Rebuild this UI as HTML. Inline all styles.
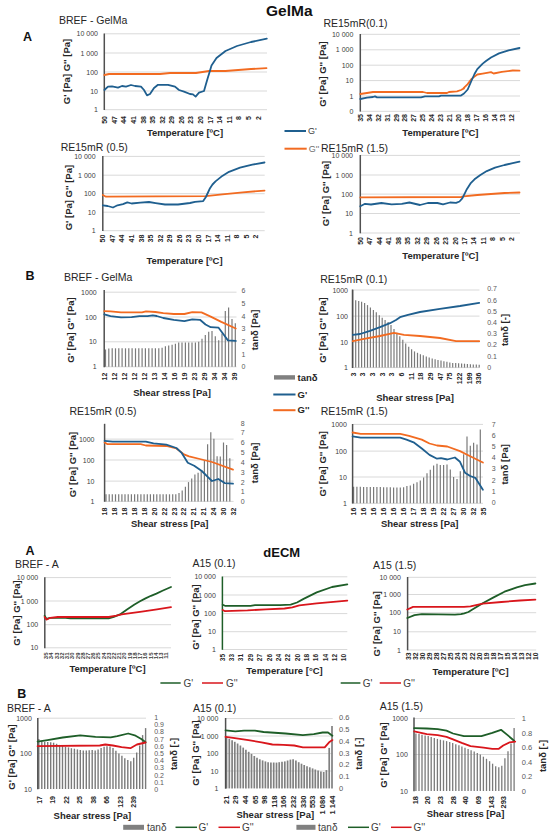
<!DOCTYPE html><html><head><meta charset="utf-8"><style>html,body{margin:0;padding:0;background:#fff;width:550px;height:837px;overflow:hidden}svg{display:block}text{font-family:"Liberation Sans",sans-serif}</style></head><body>
<svg width="550" height="837" viewBox="0 0 550 837">
<rect width="550" height="837" fill="#fff"/>
<text x="266.0" y="16.4" font-size="15.5" font-weight="bold" text-anchor="start" fill="#111">GelMa</text>
<text x="23.0" y="41.0" font-size="12.5" font-weight="bold" text-anchor="start" fill="#111">A</text>
<text x="59.0" y="24.4" font-size="10.5" text-anchor="start" fill="#262626">BREF - GelMa</text>
<line x1="104.3" y1="33.8" x2="267.0" y2="33.8" stroke="#d9d9d9" stroke-width="1"/>
<line x1="104.3" y1="53.0" x2="267.0" y2="53.0" stroke="#d9d9d9" stroke-width="1"/>
<line x1="104.3" y1="72.0" x2="267.0" y2="72.0" stroke="#d9d9d9" stroke-width="1"/>
<line x1="104.3" y1="91.0" x2="267.0" y2="91.0" stroke="#d9d9d9" stroke-width="1"/>
<line x1="104.3" y1="109.7" x2="267.0" y2="109.7" stroke="#d9d9d9" stroke-width="1"/>
<text x="98.0" y="36.3" font-size="7" text-anchor="end" fill="#404040">10 000</text>
<text x="98.0" y="55.5" font-size="7" text-anchor="end" fill="#404040">1 000</text>
<text x="98.0" y="74.5" font-size="7" text-anchor="end" fill="#404040">100</text>
<text x="98.0" y="93.5" font-size="7" text-anchor="end" fill="#404040">10</text>
<text x="98.0" y="112.2" font-size="7" text-anchor="end" fill="#404040">1</text>
<text transform="translate(70.2,71.5) rotate(-90)" font-size="9.5" font-weight="bold" text-anchor="middle" fill="#262626">G'  [Pa] G'' [Pa]</text>
<line x1="104.3" y1="33.5" x2="104.3" y2="110.0" stroke="#505050" stroke-width="1.5"/>
<text transform="translate(107.1,116.0) rotate(-90)" font-size="7" font-weight="bold" text-anchor="end" fill="#262626">50</text>
<text transform="translate(116.7,116.0) rotate(-90)" font-size="7" font-weight="bold" text-anchor="end" fill="#262626">47</text>
<text transform="translate(126.3,116.0) rotate(-90)" font-size="7" font-weight="bold" text-anchor="end" fill="#262626">44</text>
<text transform="translate(135.9,116.0) rotate(-90)" font-size="7" font-weight="bold" text-anchor="end" fill="#262626">41</text>
<text transform="translate(145.5,116.0) rotate(-90)" font-size="7" font-weight="bold" text-anchor="end" fill="#262626">38</text>
<text transform="translate(155.1,116.0) rotate(-90)" font-size="7" font-weight="bold" text-anchor="end" fill="#262626">35</text>
<text transform="translate(164.6,116.0) rotate(-90)" font-size="7" font-weight="bold" text-anchor="end" fill="#262626">32</text>
<text transform="translate(174.2,116.0) rotate(-90)" font-size="7" font-weight="bold" text-anchor="end" fill="#262626">29</text>
<text transform="translate(183.8,116.0) rotate(-90)" font-size="7" font-weight="bold" text-anchor="end" fill="#262626">26</text>
<text transform="translate(193.4,116.0) rotate(-90)" font-size="7" font-weight="bold" text-anchor="end" fill="#262626">23</text>
<text transform="translate(203.0,116.0) rotate(-90)" font-size="7" font-weight="bold" text-anchor="end" fill="#262626">20</text>
<text transform="translate(212.6,116.0) rotate(-90)" font-size="7" font-weight="bold" text-anchor="end" fill="#262626">17</text>
<text transform="translate(222.2,116.0) rotate(-90)" font-size="7" font-weight="bold" text-anchor="end" fill="#262626">14</text>
<text transform="translate(231.8,116.0) rotate(-90)" font-size="7" font-weight="bold" text-anchor="end" fill="#262626">11</text>
<text transform="translate(241.3,116.0) rotate(-90)" font-size="7" font-weight="bold" text-anchor="end" fill="#262626">8</text>
<text transform="translate(250.9,116.0) rotate(-90)" font-size="7" font-weight="bold" text-anchor="end" fill="#262626">5</text>
<text transform="translate(260.5,116.0) rotate(-90)" font-size="7" font-weight="bold" text-anchor="end" fill="#262626">2</text>
<text x="185.0" y="136.0" font-size="9.5" font-weight="bold" text-anchor="middle" fill="#262626">Temperature [ºC]</text>
<polyline points="104.4,75.0 109.0,74.0 160.0,74.0 170.0,73.0 196.0,73.0 209.0,71.0 225.5,71.0 251.0,69.0 266.5,68.2" fill="none" stroke="#f26b21" stroke-width="1.8" stroke-linejoin="round" stroke-linecap="round"/>
<polyline points="104.4,90.0 108.0,86.6 112.0,86.4 118.0,87.6 122.0,86.0 126.0,86.6 131.0,85.0 135.0,86.0 141.0,86.6 144.0,90.0 147.0,95.4 150.0,94.0 154.0,88.0 158.0,84.8 168.0,84.8 175.0,86.6 179.0,90.0 184.0,91.6 190.0,94.0 193.0,94.4 195.6,96.6 199.0,92.6 204.0,91.0 206.0,84.0 207.6,78.4 209.6,72.0 211.5,65.6 216.5,58.0 225.5,51.0 237.0,46.0 251.0,42.0 266.8,38.7" fill="none" stroke="#1f5f8f" stroke-width="1.8" stroke-linejoin="round" stroke-linecap="round"/>
<line x1="284.5" y1="131.0" x2="306.0" y2="131.0" stroke="#1f5f8f" stroke-width="2"/>
<text x="308.0" y="134.3" font-size="9" text-anchor="start" fill="#404040">G'</text>
<line x1="284.5" y1="148.7" x2="306.7" y2="148.7" stroke="#f26b21" stroke-width="2"/>
<text x="308.7" y="152.0" font-size="9" text-anchor="start" fill="#707070">G''</text>
<text x="323.4" y="26.8" font-size="10.5" text-anchor="start" fill="#262626">RE15mR(0.1)</text>
<line x1="360.3" y1="34.3" x2="520.0" y2="34.3" stroke="#d9d9d9" stroke-width="1"/>
<line x1="360.3" y1="49.8" x2="520.0" y2="49.8" stroke="#d9d9d9" stroke-width="1"/>
<line x1="360.3" y1="65.2" x2="520.0" y2="65.2" stroke="#d9d9d9" stroke-width="1"/>
<line x1="360.3" y1="80.6" x2="520.0" y2="80.6" stroke="#d9d9d9" stroke-width="1"/>
<line x1="360.3" y1="96.0" x2="520.0" y2="96.0" stroke="#d9d9d9" stroke-width="1"/>
<line x1="360.3" y1="111.3" x2="520.0" y2="111.3" stroke="#d9d9d9" stroke-width="1"/>
<text x="353.4" y="36.8" font-size="7" text-anchor="end" fill="#404040">10 000</text>
<text x="353.4" y="52.3" font-size="7" text-anchor="end" fill="#404040">1 000</text>
<text x="353.4" y="67.7" font-size="7" text-anchor="end" fill="#404040">100</text>
<text x="353.4" y="83.1" font-size="7" text-anchor="end" fill="#404040">10</text>
<text x="353.4" y="98.5" font-size="7" text-anchor="end" fill="#404040">1</text>
<text x="353.4" y="113.8" font-size="7" text-anchor="end" fill="#404040">0</text>
<text transform="translate(325.8,74.0) rotate(-90)" font-size="9.5" font-weight="bold" text-anchor="middle" fill="#262626">G'  [Pa] G'' [Pa]</text>
<line x1="360.3" y1="34.0" x2="360.3" y2="111.6" stroke="#505050" stroke-width="1.5"/>
<text transform="translate(362.8,114.0) rotate(-90)" font-size="7" font-weight="bold" text-anchor="end" fill="#262626">35</text>
<text transform="translate(371.7,114.0) rotate(-90)" font-size="7" font-weight="bold" text-anchor="end" fill="#262626">34</text>
<text transform="translate(380.6,114.0) rotate(-90)" font-size="7" font-weight="bold" text-anchor="end" fill="#262626">32</text>
<text transform="translate(389.6,114.0) rotate(-90)" font-size="7" font-weight="bold" text-anchor="end" fill="#262626">31</text>
<text transform="translate(398.5,114.0) rotate(-90)" font-size="7" font-weight="bold" text-anchor="end" fill="#262626">29</text>
<text transform="translate(407.4,114.0) rotate(-90)" font-size="7" font-weight="bold" text-anchor="end" fill="#262626">28</text>
<text transform="translate(416.3,114.0) rotate(-90)" font-size="7" font-weight="bold" text-anchor="end" fill="#262626">27</text>
<text transform="translate(425.2,114.0) rotate(-90)" font-size="7" font-weight="bold" text-anchor="end" fill="#262626">25</text>
<text transform="translate(434.1,114.0) rotate(-90)" font-size="7" font-weight="bold" text-anchor="end" fill="#262626">24</text>
<text transform="translate(443.0,114.0) rotate(-90)" font-size="7" font-weight="bold" text-anchor="end" fill="#262626">23</text>
<text transform="translate(451.9,114.0) rotate(-90)" font-size="7" font-weight="bold" text-anchor="end" fill="#262626">21</text>
<text transform="translate(460.8,114.0) rotate(-90)" font-size="7" font-weight="bold" text-anchor="end" fill="#262626">20</text>
<text transform="translate(469.8,114.0) rotate(-90)" font-size="7" font-weight="bold" text-anchor="end" fill="#262626">18</text>
<text transform="translate(478.7,114.0) rotate(-90)" font-size="7" font-weight="bold" text-anchor="end" fill="#262626">17</text>
<text transform="translate(487.6,114.0) rotate(-90)" font-size="7" font-weight="bold" text-anchor="end" fill="#262626">16</text>
<text transform="translate(496.5,114.0) rotate(-90)" font-size="7" font-weight="bold" text-anchor="end" fill="#262626">14</text>
<text transform="translate(505.4,114.0) rotate(-90)" font-size="7" font-weight="bold" text-anchor="end" fill="#262626">13</text>
<text transform="translate(514.3,114.0) rotate(-90)" font-size="7" font-weight="bold" text-anchor="end" fill="#262626">12</text>
<text x="440.4" y="136.0" font-size="9.5" font-weight="bold" text-anchor="middle" fill="#262626">Temperature [ºC]</text>
<polyline points="360.3,94.0 367.0,93.0 373.0,92.0 423.0,92.0 427.0,93.0 447.0,93.0 449.0,92.0 457.0,91.4 461.0,90.0 464.0,88.4 463.6,88.2 467.7,84.1 471.8,78.6 477.3,74.5 482.7,73.6 491.0,72.1 493.6,73.5 501.8,71.8 512.7,70.5 519.5,70.7" fill="none" stroke="#f26b21" stroke-width="1.8" stroke-linejoin="round" stroke-linecap="round"/>
<polyline points="360.3,99.0 367.0,97.6 373.0,97.0 375.0,96.4 377.0,97.4 421.0,97.4 425.0,96.4 439.0,96.4 441.0,95.6 461.0,95.6 464.0,93.5 467.7,89.5 471.8,80.0 474.5,74.0 477.3,69.1 482.7,63.6 486.0,61.0 491.0,57.5 499.0,53.4 508.6,50.3 519.5,48.0" fill="none" stroke="#1f5f8f" stroke-width="1.8" stroke-linejoin="round" stroke-linecap="round"/>
<text x="60.7" y="150.7" font-size="10.5" text-anchor="start" fill="#262626">RE15mR (0.5)</text>
<line x1="102.8" y1="156.4" x2="264.7" y2="156.4" stroke="#d9d9d9" stroke-width="1"/>
<line x1="102.8" y1="175.2" x2="264.7" y2="175.2" stroke="#d9d9d9" stroke-width="1"/>
<line x1="102.8" y1="193.7" x2="264.7" y2="193.7" stroke="#d9d9d9" stroke-width="1"/>
<line x1="102.8" y1="212.2" x2="264.7" y2="212.2" stroke="#d9d9d9" stroke-width="1"/>
<line x1="102.8" y1="230.7" x2="264.7" y2="230.7" stroke="#d9d9d9" stroke-width="1"/>
<text x="95.6" y="158.9" font-size="7" text-anchor="end" fill="#404040">10 000</text>
<text x="95.6" y="177.7" font-size="7" text-anchor="end" fill="#404040">1 000</text>
<text x="95.6" y="196.2" font-size="7" text-anchor="end" fill="#404040">100</text>
<text x="95.6" y="214.7" font-size="7" text-anchor="end" fill="#404040">10</text>
<text x="95.6" y="233.2" font-size="7" text-anchor="end" fill="#404040">1</text>
<text transform="translate(71.9,197.6) rotate(-90)" font-size="9.5" font-weight="bold" text-anchor="middle" fill="#262626">G'  [Pa]  G'' [Pa]</text>
<line x1="102.8" y1="156.0" x2="102.8" y2="231.0" stroke="#505050" stroke-width="1.5"/>
<text transform="translate(105.3,234.7) rotate(-90)" font-size="7" font-weight="bold" text-anchor="end" fill="#262626">50</text>
<text transform="translate(114.9,234.7) rotate(-90)" font-size="7" font-weight="bold" text-anchor="end" fill="#262626">47</text>
<text transform="translate(124.4,234.7) rotate(-90)" font-size="7" font-weight="bold" text-anchor="end" fill="#262626">44</text>
<text transform="translate(134.0,234.7) rotate(-90)" font-size="7" font-weight="bold" text-anchor="end" fill="#262626">41</text>
<text transform="translate(143.6,234.7) rotate(-90)" font-size="7" font-weight="bold" text-anchor="end" fill="#262626">38</text>
<text transform="translate(153.1,234.7) rotate(-90)" font-size="7" font-weight="bold" text-anchor="end" fill="#262626">35</text>
<text transform="translate(162.7,234.7) rotate(-90)" font-size="7" font-weight="bold" text-anchor="end" fill="#262626">32</text>
<text transform="translate(172.3,234.7) rotate(-90)" font-size="7" font-weight="bold" text-anchor="end" fill="#262626">29</text>
<text transform="translate(181.8,234.7) rotate(-90)" font-size="7" font-weight="bold" text-anchor="end" fill="#262626">26</text>
<text transform="translate(191.4,234.7) rotate(-90)" font-size="7" font-weight="bold" text-anchor="end" fill="#262626">23</text>
<text transform="translate(200.9,234.7) rotate(-90)" font-size="7" font-weight="bold" text-anchor="end" fill="#262626">20</text>
<text transform="translate(210.5,234.7) rotate(-90)" font-size="7" font-weight="bold" text-anchor="end" fill="#262626">17</text>
<text transform="translate(220.1,234.7) rotate(-90)" font-size="7" font-weight="bold" text-anchor="end" fill="#262626">14</text>
<text transform="translate(229.6,234.7) rotate(-90)" font-size="7" font-weight="bold" text-anchor="end" fill="#262626">11</text>
<text transform="translate(239.2,234.7) rotate(-90)" font-size="7" font-weight="bold" text-anchor="end" fill="#262626">8</text>
<text transform="translate(248.8,234.7) rotate(-90)" font-size="7" font-weight="bold" text-anchor="end" fill="#262626">5</text>
<text transform="translate(258.3,234.7) rotate(-90)" font-size="7" font-weight="bold" text-anchor="end" fill="#262626">2</text>
<text x="184.5" y="263.5" font-size="9.5" font-weight="bold" text-anchor="middle" fill="#262626">Temperature [ºC]</text>
<polyline points="102.8,195.0 106.0,196.7 205.9,196.1 222.3,194.3 242.7,192.3 264.5,190.6" fill="none" stroke="#f26b21" stroke-width="1.8" stroke-linejoin="round" stroke-linecap="round"/>
<polyline points="102.8,205.3 107.6,206.0 113.0,207.5 117.5,205.3 123.0,204.2 127.3,202.4 131.6,203.5 140.4,202.7 149.0,202.0 155.6,203.1 165.0,204.5 178.0,204.5 190.0,203.0 195.0,201.8 203.2,201.1 205.9,197.0 208.0,192.5 210.0,188.2 212.5,184.5 215.5,181.4 222.3,175.9 229.0,171.8 240.0,167.7 252.3,164.6 264.5,162.5" fill="none" stroke="#1f5f8f" stroke-width="1.8" stroke-linejoin="round" stroke-linecap="round"/>
<text x="321.0" y="151.5" font-size="10.5" text-anchor="start" fill="#262626">RE15mR (1.5)</text>
<line x1="360.3" y1="155.4" x2="520.0" y2="155.4" stroke="#d9d9d9" stroke-width="1"/>
<line x1="360.3" y1="175.0" x2="520.0" y2="175.0" stroke="#d9d9d9" stroke-width="1"/>
<line x1="360.3" y1="194.1" x2="520.0" y2="194.1" stroke="#d9d9d9" stroke-width="1"/>
<line x1="360.3" y1="213.5" x2="520.0" y2="213.5" stroke="#d9d9d9" stroke-width="1"/>
<line x1="360.3" y1="233.0" x2="520.0" y2="233.0" stroke="#d9d9d9" stroke-width="1"/>
<text x="353.0" y="157.9" font-size="7" text-anchor="end" fill="#404040">10 000</text>
<text x="353.0" y="177.5" font-size="7" text-anchor="end" fill="#404040">1 000</text>
<text x="353.0" y="196.6" font-size="7" text-anchor="end" fill="#404040">100</text>
<text x="353.0" y="216.0" font-size="7" text-anchor="end" fill="#404040">10</text>
<text x="353.0" y="235.5" font-size="7" text-anchor="end" fill="#404040">1</text>
<text transform="translate(329.1,193.5) rotate(-90)" font-size="9.5" font-weight="bold" text-anchor="middle" fill="#262626">G'  [Pa]  G'' [Pa]</text>
<line x1="360.3" y1="155.0" x2="360.3" y2="233.3" stroke="#505050" stroke-width="1.5"/>
<text transform="translate(362.8,237.0) rotate(-90)" font-size="7" font-weight="bold" text-anchor="end" fill="#262626">50</text>
<text transform="translate(372.3,237.0) rotate(-90)" font-size="7" font-weight="bold" text-anchor="end" fill="#262626">47</text>
<text transform="translate(381.8,237.0) rotate(-90)" font-size="7" font-weight="bold" text-anchor="end" fill="#262626">44</text>
<text transform="translate(391.2,237.0) rotate(-90)" font-size="7" font-weight="bold" text-anchor="end" fill="#262626">41</text>
<text transform="translate(400.7,237.0) rotate(-90)" font-size="7" font-weight="bold" text-anchor="end" fill="#262626">38</text>
<text transform="translate(410.2,237.0) rotate(-90)" font-size="7" font-weight="bold" text-anchor="end" fill="#262626">35</text>
<text transform="translate(419.6,237.0) rotate(-90)" font-size="7" font-weight="bold" text-anchor="end" fill="#262626">32</text>
<text transform="translate(429.1,237.0) rotate(-90)" font-size="7" font-weight="bold" text-anchor="end" fill="#262626">29</text>
<text transform="translate(438.6,237.0) rotate(-90)" font-size="7" font-weight="bold" text-anchor="end" fill="#262626">26</text>
<text transform="translate(448.0,237.0) rotate(-90)" font-size="7" font-weight="bold" text-anchor="end" fill="#262626">23</text>
<text transform="translate(457.5,237.0) rotate(-90)" font-size="7" font-weight="bold" text-anchor="end" fill="#262626">20</text>
<text transform="translate(467.0,237.0) rotate(-90)" font-size="7" font-weight="bold" text-anchor="end" fill="#262626">17</text>
<text transform="translate(476.4,237.0) rotate(-90)" font-size="7" font-weight="bold" text-anchor="end" fill="#262626">14</text>
<text transform="translate(485.9,237.0) rotate(-90)" font-size="7" font-weight="bold" text-anchor="end" fill="#262626">11</text>
<text transform="translate(495.4,237.0) rotate(-90)" font-size="7" font-weight="bold" text-anchor="end" fill="#262626">8</text>
<text transform="translate(504.9,237.0) rotate(-90)" font-size="7" font-weight="bold" text-anchor="end" fill="#262626">5</text>
<text transform="translate(514.3,237.0) rotate(-90)" font-size="7" font-weight="bold" text-anchor="end" fill="#262626">2</text>
<text x="440.4" y="258.5" font-size="9.5" font-weight="bold" text-anchor="middle" fill="#262626">Temperature [ºC]</text>
<polyline points="360.3,197.4 461.0,197.0 463.6,196.4 477.3,195.0 491.0,194.0 504.5,193.0 519.5,192.5" fill="none" stroke="#f26b21" stroke-width="1.8" stroke-linejoin="round" stroke-linecap="round"/>
<polyline points="360.3,206.3 365.0,203.8 371.0,204.5 381.4,203.0 391.6,204.3 401.8,203.8 409.4,202.5 420.0,205.0 427.8,203.0 437.4,203.0 443.0,204.3 450.0,202.5 456.1,202.9 459.5,201.5 462.3,198.4 464.3,194.3 467.0,188.9 470.5,183.4 474.5,179.3 480.0,175.2 486.8,171.1 495.0,167.7 504.5,165.0 512.7,163.2 519.5,161.6" fill="none" stroke="#1f5f8f" stroke-width="1.8" stroke-linejoin="round" stroke-linecap="round"/>
<text x="25.4" y="280.4" font-size="12.5" font-weight="bold" text-anchor="start" fill="#111">B</text>
<text x="64.0" y="280.9" font-size="10.5" text-anchor="start" fill="#262626">BREF - GelMa</text>
<line x1="104.3" y1="292.2" x2="236.5" y2="292.2" stroke="#d9d9d9" stroke-width="1"/>
<line x1="104.3" y1="317.0" x2="236.5" y2="317.0" stroke="#d9d9d9" stroke-width="1"/>
<line x1="104.3" y1="341.8" x2="236.5" y2="341.8" stroke="#d9d9d9" stroke-width="1"/>
<line x1="104.3" y1="366.8" x2="236.5" y2="366.8" stroke="#d9d9d9" stroke-width="1"/>
<text x="96.7" y="294.7" font-size="7" text-anchor="end" fill="#404040">1000</text>
<text x="96.7" y="319.5" font-size="7" text-anchor="end" fill="#404040">100</text>
<text x="96.7" y="344.3" font-size="7" text-anchor="end" fill="#404040">10</text>
<text x="96.7" y="369.3" font-size="7" text-anchor="end" fill="#404040">1</text>
<text transform="translate(74.4,330.0) rotate(-90)" font-size="9.5" font-weight="bold" text-anchor="middle" fill="#262626">G'  [Pa]  G'' [Pa]</text>
<text x="243.5" y="293.4" font-size="7" text-anchor="middle" fill="#595959">6</text>
<text x="243.5" y="306.0" font-size="7" text-anchor="middle" fill="#595959">5</text>
<text x="243.5" y="318.6" font-size="7" text-anchor="middle" fill="#595959">4</text>
<text x="243.5" y="331.3" font-size="7" text-anchor="middle" fill="#595959">3</text>
<text x="243.5" y="343.9" font-size="7" text-anchor="middle" fill="#595959">2</text>
<text x="243.5" y="356.5" font-size="7" text-anchor="middle" fill="#595959">1</text>
<text x="243.5" y="369.1" font-size="7" text-anchor="middle" fill="#595959">0</text>
<text transform="translate(258.0,330.0) rotate(-90)" font-size="9.5" font-weight="bold" text-anchor="middle" fill="#262626">tanδ [Pa]</text>
<line x1="105.5" y1="349.5" x2="105.5" y2="366.8" stroke="#7a7a7a" stroke-width="1.2"/>
<line x1="108.8" y1="348.6" x2="108.8" y2="366.8" stroke="#7a7a7a" stroke-width="1.2"/>
<line x1="112.2" y1="348.3" x2="112.2" y2="366.8" stroke="#7a7a7a" stroke-width="1.2"/>
<line x1="115.5" y1="348.3" x2="115.5" y2="366.8" stroke="#7a7a7a" stroke-width="1.2"/>
<line x1="118.8" y1="348.3" x2="118.8" y2="366.8" stroke="#7a7a7a" stroke-width="1.2"/>
<line x1="122.1" y1="348.3" x2="122.1" y2="366.8" stroke="#7a7a7a" stroke-width="1.2"/>
<line x1="125.5" y1="348.3" x2="125.5" y2="366.8" stroke="#7a7a7a" stroke-width="1.2"/>
<line x1="128.8" y1="348.3" x2="128.8" y2="366.8" stroke="#7a7a7a" stroke-width="1.2"/>
<line x1="132.1" y1="348.3" x2="132.1" y2="366.8" stroke="#7a7a7a" stroke-width="1.2"/>
<line x1="135.5" y1="348.3" x2="135.5" y2="366.8" stroke="#7a7a7a" stroke-width="1.2"/>
<line x1="138.8" y1="348.3" x2="138.8" y2="366.8" stroke="#7a7a7a" stroke-width="1.2"/>
<line x1="142.1" y1="348.3" x2="142.1" y2="366.8" stroke="#7a7a7a" stroke-width="1.2"/>
<line x1="145.4" y1="348.3" x2="145.4" y2="366.8" stroke="#7a7a7a" stroke-width="1.2"/>
<line x1="148.8" y1="348.3" x2="148.8" y2="366.8" stroke="#7a7a7a" stroke-width="1.2"/>
<line x1="152.1" y1="348.3" x2="152.1" y2="366.8" stroke="#7a7a7a" stroke-width="1.2"/>
<line x1="155.4" y1="348.3" x2="155.4" y2="366.8" stroke="#7a7a7a" stroke-width="1.2"/>
<line x1="158.8" y1="348.3" x2="158.8" y2="366.8" stroke="#7a7a7a" stroke-width="1.2"/>
<line x1="162.1" y1="347.7" x2="162.1" y2="366.8" stroke="#7a7a7a" stroke-width="1.2"/>
<line x1="165.4" y1="346.3" x2="165.4" y2="366.8" stroke="#7a7a7a" stroke-width="1.2"/>
<line x1="168.7" y1="345.5" x2="168.7" y2="366.8" stroke="#7a7a7a" stroke-width="1.2"/>
<line x1="172.1" y1="344.7" x2="172.1" y2="366.8" stroke="#7a7a7a" stroke-width="1.2"/>
<line x1="175.4" y1="343.8" x2="175.4" y2="366.8" stroke="#7a7a7a" stroke-width="1.2"/>
<line x1="178.7" y1="342.6" x2="178.7" y2="366.8" stroke="#7a7a7a" stroke-width="1.2"/>
<line x1="182.0" y1="342.5" x2="182.0" y2="366.8" stroke="#7a7a7a" stroke-width="1.2"/>
<line x1="185.4" y1="342.5" x2="185.4" y2="366.8" stroke="#7a7a7a" stroke-width="1.2"/>
<line x1="188.7" y1="342.5" x2="188.7" y2="366.8" stroke="#7a7a7a" stroke-width="1.2"/>
<line x1="192.0" y1="342.5" x2="192.0" y2="366.8" stroke="#7a7a7a" stroke-width="1.2"/>
<line x1="195.4" y1="342.5" x2="195.4" y2="366.8" stroke="#7a7a7a" stroke-width="1.2"/>
<line x1="198.7" y1="341.8" x2="198.7" y2="366.8" stroke="#7a7a7a" stroke-width="1.2"/>
<line x1="202.0" y1="338.7" x2="202.0" y2="366.8" stroke="#7a7a7a" stroke-width="1.2"/>
<line x1="205.3" y1="334.9" x2="205.3" y2="366.8" stroke="#7a7a7a" stroke-width="1.2"/>
<line x1="208.7" y1="331.8" x2="208.7" y2="366.8" stroke="#7a7a7a" stroke-width="1.2"/>
<line x1="212.0" y1="331.0" x2="212.0" y2="366.8" stroke="#7a7a7a" stroke-width="1.2"/>
<line x1="215.3" y1="336.2" x2="215.3" y2="366.8" stroke="#7a7a7a" stroke-width="1.2"/>
<line x1="218.7" y1="340.3" x2="218.7" y2="366.8" stroke="#7a7a7a" stroke-width="1.2"/>
<line x1="222.0" y1="333.6" x2="222.0" y2="366.8" stroke="#7a7a7a" stroke-width="1.2"/>
<line x1="225.3" y1="311.1" x2="225.3" y2="366.8" stroke="#7a7a7a" stroke-width="1.2"/>
<line x1="228.6" y1="307.5" x2="228.6" y2="366.8" stroke="#7a7a7a" stroke-width="1.2"/>
<line x1="232.0" y1="318.9" x2="232.0" y2="366.8" stroke="#7a7a7a" stroke-width="1.2"/>
<line x1="235.3" y1="323.2" x2="235.3" y2="366.8" stroke="#7a7a7a" stroke-width="1.2"/>
<line x1="104.2" y1="290.0" x2="104.2" y2="367.2" stroke="#505050" stroke-width="1.5"/>
<text transform="translate(107.4,372.7) rotate(-90)" font-size="7" font-weight="bold" text-anchor="end" fill="#262626">12</text>
<text transform="translate(117.4,372.7) rotate(-90)" font-size="7" font-weight="bold" text-anchor="end" fill="#262626">12</text>
<text transform="translate(127.4,372.7) rotate(-90)" font-size="7" font-weight="bold" text-anchor="end" fill="#262626">12</text>
<text transform="translate(137.3,372.7) rotate(-90)" font-size="7" font-weight="bold" text-anchor="end" fill="#262626">12</text>
<text transform="translate(147.3,372.7) rotate(-90)" font-size="7" font-weight="bold" text-anchor="end" fill="#262626">12</text>
<text transform="translate(157.3,372.7) rotate(-90)" font-size="7" font-weight="bold" text-anchor="end" fill="#262626">13</text>
<text transform="translate(167.2,372.7) rotate(-90)" font-size="7" font-weight="bold" text-anchor="end" fill="#262626">14</text>
<text transform="translate(177.2,372.7) rotate(-90)" font-size="7" font-weight="bold" text-anchor="end" fill="#262626">16</text>
<text transform="translate(187.2,372.7) rotate(-90)" font-size="7" font-weight="bold" text-anchor="end" fill="#262626">19</text>
<text transform="translate(197.1,372.7) rotate(-90)" font-size="7" font-weight="bold" text-anchor="end" fill="#262626">23</text>
<text transform="translate(207.1,372.7) rotate(-90)" font-size="7" font-weight="bold" text-anchor="end" fill="#262626">29</text>
<text transform="translate(217.1,372.7) rotate(-90)" font-size="7" font-weight="bold" text-anchor="end" fill="#262626">34</text>
<text transform="translate(227.1,372.7) rotate(-90)" font-size="7" font-weight="bold" text-anchor="end" fill="#262626">34</text>
<text transform="translate(237.0,372.7) rotate(-90)" font-size="7" font-weight="bold" text-anchor="end" fill="#262626">39</text>
<text x="172.0" y="395.5" font-size="9.5" font-weight="bold" text-anchor="middle" fill="#262626">Shear stress [Pa]</text>
<polyline points="104.3,311.1 110.5,311.4 121.0,312.4 142.0,312.4 146.0,311.4 155.4,312.0 163.3,313.2 173.8,314.0 184.4,314.0 192.3,312.2 201.5,312.4 210.7,316.6 221.3,321.9 235.8,328.5" fill="none" stroke="#f26b21" stroke-width="1.8" stroke-linejoin="round" stroke-linecap="round"/>
<polyline points="104.3,314.3 110.5,316.1 121.0,317.4 131.6,317.2 139.5,316.1 147.5,316.1 152.7,315.3 156.7,316.0 163.3,318.0 173.8,319.8 184.4,321.1 192.3,319.3 200.0,319.8 205.5,324.5 210.7,327.2 218.6,327.7 224.0,335.0 227.9,340.4 235.8,340.9" fill="none" stroke="#1f5f8f" stroke-width="1.8" stroke-linejoin="round" stroke-linecap="round"/>
<line x1="274.0" y1="377.4" x2="295.0" y2="377.4" stroke="#808080" stroke-width="4.4"/>
<text x="297.5" y="381.0" font-size="9.5" font-weight="bold" text-anchor="start" fill="#262626">tanδ</text>
<line x1="273.3" y1="394.5" x2="295.5" y2="394.5" stroke="#1f5f8f" stroke-width="2"/>
<text x="297.5" y="397.5" font-size="9.5" font-weight="bold" text-anchor="start" fill="#262626">G'</text>
<line x1="273.3" y1="410.2" x2="295.5" y2="410.2" stroke="#f26b21" stroke-width="2"/>
<text x="297.5" y="413.4" font-size="9.5" font-weight="bold" text-anchor="start" fill="#262626">G''</text>
<text x="320.2" y="283.3" font-size="10.5" text-anchor="start" fill="#262626">RE15mR (0.1)</text>
<line x1="352.5" y1="290.0" x2="479.5" y2="290.0" stroke="#d9d9d9" stroke-width="1"/>
<line x1="352.5" y1="316.1" x2="479.5" y2="316.1" stroke="#d9d9d9" stroke-width="1"/>
<line x1="352.5" y1="342.3" x2="479.5" y2="342.3" stroke="#d9d9d9" stroke-width="1"/>
<line x1="352.5" y1="367.6" x2="479.5" y2="367.6" stroke="#d9d9d9" stroke-width="1"/>
<text x="348.0" y="292.5" font-size="7" text-anchor="end" fill="#404040">1000</text>
<text x="348.0" y="318.6" font-size="7" text-anchor="end" fill="#404040">100</text>
<text x="348.0" y="344.8" font-size="7" text-anchor="end" fill="#404040">10</text>
<text x="348.0" y="369.9" font-size="7" text-anchor="end" fill="#404040">1</text>
<text transform="translate(326.4,330.0) rotate(-90)" font-size="9.5" font-weight="bold" text-anchor="middle" fill="#262626">G'  [Pa] G'' [Pa]</text>
<text x="487.2" y="291.3" font-size="7" text-anchor="start" fill="#595959">0.7</text>
<text x="487.2" y="302.5" font-size="7" text-anchor="start" fill="#595959">0.6</text>
<text x="487.2" y="313.7" font-size="7" text-anchor="start" fill="#595959">0.5</text>
<text x="487.2" y="324.9" font-size="7" text-anchor="start" fill="#595959">0.4</text>
<text x="487.2" y="336.1" font-size="7" text-anchor="start" fill="#595959">0.3</text>
<text x="487.2" y="347.3" font-size="7" text-anchor="start" fill="#595959">0.2</text>
<text x="487.2" y="358.5" font-size="7" text-anchor="start" fill="#595959">0.1</text>
<text x="487.2" y="369.7" font-size="7" text-anchor="start" fill="#595959">0</text>
<text transform="translate(508.2,330.0) rotate(-90)" font-size="9.5" font-weight="bold" text-anchor="middle" fill="#262626">tanδ [-]</text>
<line x1="352.8" y1="290.0" x2="352.8" y2="367.6" stroke="#7a7a7a" stroke-width="1.2"/>
<line x1="355.7" y1="300.2" x2="355.7" y2="367.6" stroke="#7a7a7a" stroke-width="1.2"/>
<line x1="358.7" y1="301.0" x2="358.7" y2="367.6" stroke="#7a7a7a" stroke-width="1.2"/>
<line x1="361.6" y1="301.7" x2="361.6" y2="367.6" stroke="#7a7a7a" stroke-width="1.2"/>
<line x1="364.6" y1="303.0" x2="364.6" y2="367.6" stroke="#7a7a7a" stroke-width="1.2"/>
<line x1="367.5" y1="305.1" x2="367.5" y2="367.6" stroke="#7a7a7a" stroke-width="1.2"/>
<line x1="370.4" y1="307.4" x2="370.4" y2="367.6" stroke="#7a7a7a" stroke-width="1.2"/>
<line x1="373.4" y1="309.9" x2="373.4" y2="367.6" stroke="#7a7a7a" stroke-width="1.2"/>
<line x1="376.3" y1="312.3" x2="376.3" y2="367.6" stroke="#7a7a7a" stroke-width="1.2"/>
<line x1="379.3" y1="315.3" x2="379.3" y2="367.6" stroke="#7a7a7a" stroke-width="1.2"/>
<line x1="382.2" y1="317.8" x2="382.2" y2="367.6" stroke="#7a7a7a" stroke-width="1.2"/>
<line x1="385.1" y1="320.0" x2="385.1" y2="367.6" stroke="#7a7a7a" stroke-width="1.2"/>
<line x1="388.1" y1="322.1" x2="388.1" y2="367.6" stroke="#7a7a7a" stroke-width="1.2"/>
<line x1="391.0" y1="325.0" x2="391.0" y2="367.6" stroke="#7a7a7a" stroke-width="1.2"/>
<line x1="394.0" y1="329.1" x2="394.0" y2="367.6" stroke="#7a7a7a" stroke-width="1.2"/>
<line x1="396.9" y1="332.7" x2="396.9" y2="367.6" stroke="#7a7a7a" stroke-width="1.2"/>
<line x1="399.8" y1="336.2" x2="399.8" y2="367.6" stroke="#7a7a7a" stroke-width="1.2"/>
<line x1="402.8" y1="339.8" x2="402.8" y2="367.6" stroke="#7a7a7a" stroke-width="1.2"/>
<line x1="405.7" y1="343.6" x2="405.7" y2="367.6" stroke="#7a7a7a" stroke-width="1.2"/>
<line x1="408.7" y1="346.7" x2="408.7" y2="367.6" stroke="#7a7a7a" stroke-width="1.2"/>
<line x1="411.6" y1="349.3" x2="411.6" y2="367.6" stroke="#7a7a7a" stroke-width="1.2"/>
<line x1="414.5" y1="351.4" x2="414.5" y2="367.6" stroke="#7a7a7a" stroke-width="1.2"/>
<line x1="417.5" y1="352.8" x2="417.5" y2="367.6" stroke="#7a7a7a" stroke-width="1.2"/>
<line x1="420.4" y1="354.2" x2="420.4" y2="367.6" stroke="#7a7a7a" stroke-width="1.2"/>
<line x1="423.3" y1="355.3" x2="423.3" y2="367.6" stroke="#7a7a7a" stroke-width="1.2"/>
<line x1="426.3" y1="356.5" x2="426.3" y2="367.6" stroke="#7a7a7a" stroke-width="1.2"/>
<line x1="429.2" y1="357.5" x2="429.2" y2="367.6" stroke="#7a7a7a" stroke-width="1.2"/>
<line x1="432.2" y1="358.4" x2="432.2" y2="367.6" stroke="#7a7a7a" stroke-width="1.2"/>
<line x1="435.1" y1="359.2" x2="435.1" y2="367.6" stroke="#7a7a7a" stroke-width="1.2"/>
<line x1="438.0" y1="360.0" x2="438.0" y2="367.6" stroke="#7a7a7a" stroke-width="1.2"/>
<line x1="441.0" y1="360.6" x2="441.0" y2="367.6" stroke="#7a7a7a" stroke-width="1.2"/>
<line x1="443.9" y1="361.2" x2="443.9" y2="367.6" stroke="#7a7a7a" stroke-width="1.2"/>
<line x1="446.9" y1="361.8" x2="446.9" y2="367.6" stroke="#7a7a7a" stroke-width="1.2"/>
<line x1="449.8" y1="362.4" x2="449.8" y2="367.6" stroke="#7a7a7a" stroke-width="1.2"/>
<line x1="452.7" y1="362.9" x2="452.7" y2="367.6" stroke="#7a7a7a" stroke-width="1.2"/>
<line x1="455.7" y1="363.1" x2="455.7" y2="367.6" stroke="#7a7a7a" stroke-width="1.2"/>
<line x1="458.6" y1="363.3" x2="458.6" y2="367.6" stroke="#7a7a7a" stroke-width="1.2"/>
<line x1="461.6" y1="363.5" x2="461.6" y2="367.6" stroke="#7a7a7a" stroke-width="1.2"/>
<line x1="464.5" y1="363.7" x2="464.5" y2="367.6" stroke="#7a7a7a" stroke-width="1.2"/>
<line x1="467.4" y1="364.0" x2="467.4" y2="367.6" stroke="#7a7a7a" stroke-width="1.2"/>
<line x1="470.4" y1="364.2" x2="470.4" y2="367.6" stroke="#7a7a7a" stroke-width="1.2"/>
<line x1="473.3" y1="364.4" x2="473.3" y2="367.6" stroke="#7a7a7a" stroke-width="1.2"/>
<line x1="476.3" y1="364.6" x2="476.3" y2="367.6" stroke="#7a7a7a" stroke-width="1.2"/>
<line x1="479.2" y1="364.8" x2="479.2" y2="367.6" stroke="#7a7a7a" stroke-width="1.2"/>
<line x1="352.5" y1="289.5" x2="352.5" y2="368.0" stroke="#505050" stroke-width="1.5"/>
<text transform="translate(355.7,372.5) rotate(-90)" font-size="7" font-weight="bold" text-anchor="end" fill="#262626">3</text>
<text transform="translate(365.4,372.5) rotate(-90)" font-size="7" font-weight="bold" text-anchor="end" fill="#262626">3</text>
<text transform="translate(375.0,372.5) rotate(-90)" font-size="7" font-weight="bold" text-anchor="end" fill="#262626">3</text>
<text transform="translate(384.7,372.5) rotate(-90)" font-size="7" font-weight="bold" text-anchor="end" fill="#262626">3</text>
<text transform="translate(394.3,372.5) rotate(-90)" font-size="7" font-weight="bold" text-anchor="end" fill="#262626">3</text>
<text transform="translate(404.0,372.5) rotate(-90)" font-size="7" font-weight="bold" text-anchor="end" fill="#262626">6</text>
<text transform="translate(413.6,372.5) rotate(-90)" font-size="7" font-weight="bold" text-anchor="end" fill="#262626">11</text>
<text transform="translate(423.2,372.5) rotate(-90)" font-size="7" font-weight="bold" text-anchor="end" fill="#262626">18</text>
<text transform="translate(432.9,372.5) rotate(-90)" font-size="7" font-weight="bold" text-anchor="end" fill="#262626">29</text>
<text transform="translate(442.5,372.5) rotate(-90)" font-size="7" font-weight="bold" text-anchor="end" fill="#262626">47</text>
<text transform="translate(452.2,372.5) rotate(-90)" font-size="7" font-weight="bold" text-anchor="end" fill="#262626">75</text>
<text transform="translate(461.8,372.5) rotate(-90)" font-size="7" font-weight="bold" text-anchor="end" fill="#262626">122</text>
<text transform="translate(471.5,372.5) rotate(-90)" font-size="7" font-weight="bold" text-anchor="end" fill="#262626">199</text>
<text transform="translate(481.1,372.5) rotate(-90)" font-size="7" font-weight="bold" text-anchor="end" fill="#262626">336</text>
<text x="415.0" y="400.5" font-size="9.5" font-weight="bold" text-anchor="middle" fill="#262626">Shear stress [Pa]</text>
<polyline points="352.8,341.2 364.0,338.8 380.0,336.0 394.0,332.8 404.0,334.8 420.0,336.0 440.0,338.0 456.0,341.2 479.2,341.2" fill="none" stroke="#f26b21" stroke-width="1.8" stroke-linejoin="round" stroke-linecap="round"/>
<polyline points="352.8,334.8 360.0,334.0 370.0,330.8 380.0,327.2 390.0,323.2 396.0,320.0 400.0,317.2 408.0,314.8 420.0,312.0 440.0,308.8 460.0,306.0 479.2,302.8" fill="none" stroke="#1f5f8f" stroke-width="1.8" stroke-linejoin="round" stroke-linecap="round"/>
<text x="69.5" y="415.0" font-size="10.5" text-anchor="start" fill="#262626">RE15mR (0.5)</text>
<line x1="104.6" y1="439.1" x2="233.6" y2="439.1" stroke="#d9d9d9" stroke-width="1"/>
<line x1="104.6" y1="460.0" x2="233.6" y2="460.0" stroke="#d9d9d9" stroke-width="1"/>
<line x1="104.6" y1="481.1" x2="233.6" y2="481.1" stroke="#d9d9d9" stroke-width="1"/>
<line x1="104.6" y1="501.4" x2="233.6" y2="501.4" stroke="#d9d9d9" stroke-width="1"/>
<text x="94.5" y="441.6" font-size="7" text-anchor="end" fill="#404040">1000</text>
<text x="94.5" y="462.5" font-size="7" text-anchor="end" fill="#404040">100</text>
<text x="94.5" y="483.6" font-size="7" text-anchor="end" fill="#404040">10</text>
<text x="94.5" y="503.9" font-size="7" text-anchor="end" fill="#404040">1</text>
<text transform="translate(76.2,464.5) rotate(-90)" font-size="9.5" font-weight="bold" text-anchor="middle" fill="#262626">G'  [Pa]  G'' [Pa]</text>
<text x="242.7" y="425.6" font-size="7" text-anchor="middle" fill="#595959">8</text>
<text x="242.7" y="435.4" font-size="7" text-anchor="middle" fill="#595959">7</text>
<text x="242.7" y="445.2" font-size="7" text-anchor="middle" fill="#595959">6</text>
<text x="242.7" y="455.0" font-size="7" text-anchor="middle" fill="#595959">5</text>
<text x="242.7" y="464.8" font-size="7" text-anchor="middle" fill="#595959">4</text>
<text x="242.7" y="474.7" font-size="7" text-anchor="middle" fill="#595959">3</text>
<text x="242.7" y="484.5" font-size="7" text-anchor="middle" fill="#595959">2</text>
<text x="242.7" y="494.3" font-size="7" text-anchor="middle" fill="#595959">1</text>
<text x="242.7" y="504.1" font-size="7" text-anchor="middle" fill="#595959">0</text>
<text transform="translate(258.1,462.9) rotate(-90)" font-size="9.5" font-weight="bold" text-anchor="middle" fill="#262626">tanδ [Pa]</text>
<line x1="106.0" y1="494.3" x2="106.0" y2="501.4" stroke="#7a7a7a" stroke-width="1.2"/>
<line x1="109.2" y1="494.3" x2="109.2" y2="501.4" stroke="#7a7a7a" stroke-width="1.2"/>
<line x1="112.3" y1="494.3" x2="112.3" y2="501.4" stroke="#7a7a7a" stroke-width="1.2"/>
<line x1="115.5" y1="494.3" x2="115.5" y2="501.4" stroke="#7a7a7a" stroke-width="1.2"/>
<line x1="118.7" y1="494.3" x2="118.7" y2="501.4" stroke="#7a7a7a" stroke-width="1.2"/>
<line x1="121.9" y1="494.3" x2="121.9" y2="501.4" stroke="#7a7a7a" stroke-width="1.2"/>
<line x1="125.0" y1="494.3" x2="125.0" y2="501.4" stroke="#7a7a7a" stroke-width="1.2"/>
<line x1="128.2" y1="494.3" x2="128.2" y2="501.4" stroke="#7a7a7a" stroke-width="1.2"/>
<line x1="131.4" y1="494.3" x2="131.4" y2="501.4" stroke="#7a7a7a" stroke-width="1.2"/>
<line x1="134.6" y1="494.3" x2="134.6" y2="501.4" stroke="#7a7a7a" stroke-width="1.2"/>
<line x1="137.7" y1="494.3" x2="137.7" y2="501.4" stroke="#7a7a7a" stroke-width="1.2"/>
<line x1="140.9" y1="494.3" x2="140.9" y2="501.4" stroke="#7a7a7a" stroke-width="1.2"/>
<line x1="144.1" y1="494.3" x2="144.1" y2="501.4" stroke="#7a7a7a" stroke-width="1.2"/>
<line x1="147.3" y1="494.3" x2="147.3" y2="501.4" stroke="#7a7a7a" stroke-width="1.2"/>
<line x1="150.4" y1="494.3" x2="150.4" y2="501.4" stroke="#7a7a7a" stroke-width="1.2"/>
<line x1="153.6" y1="494.3" x2="153.6" y2="501.4" stroke="#7a7a7a" stroke-width="1.2"/>
<line x1="156.8" y1="494.3" x2="156.8" y2="501.4" stroke="#7a7a7a" stroke-width="1.2"/>
<line x1="160.0" y1="494.3" x2="160.0" y2="501.4" stroke="#7a7a7a" stroke-width="1.2"/>
<line x1="163.1" y1="494.3" x2="163.1" y2="501.4" stroke="#7a7a7a" stroke-width="1.2"/>
<line x1="166.3" y1="494.3" x2="166.3" y2="501.4" stroke="#7a7a7a" stroke-width="1.2"/>
<line x1="169.5" y1="494.3" x2="169.5" y2="501.4" stroke="#7a7a7a" stroke-width="1.2"/>
<line x1="172.7" y1="494.3" x2="172.7" y2="501.4" stroke="#7a7a7a" stroke-width="1.2"/>
<line x1="175.8" y1="494.3" x2="175.8" y2="501.4" stroke="#7a7a7a" stroke-width="1.2"/>
<line x1="179.0" y1="492.9" x2="179.0" y2="501.4" stroke="#7a7a7a" stroke-width="1.2"/>
<line x1="182.2" y1="490.6" x2="182.2" y2="501.4" stroke="#7a7a7a" stroke-width="1.2"/>
<line x1="185.4" y1="486.7" x2="185.4" y2="501.4" stroke="#7a7a7a" stroke-width="1.2"/>
<line x1="188.5" y1="482.1" x2="188.5" y2="501.4" stroke="#7a7a7a" stroke-width="1.2"/>
<line x1="191.7" y1="478.6" x2="191.7" y2="501.4" stroke="#7a7a7a" stroke-width="1.2"/>
<line x1="194.9" y1="474.5" x2="194.9" y2="501.4" stroke="#7a7a7a" stroke-width="1.2"/>
<line x1="198.1" y1="472.7" x2="198.1" y2="501.4" stroke="#7a7a7a" stroke-width="1.2"/>
<line x1="201.2" y1="470.1" x2="201.2" y2="501.4" stroke="#7a7a7a" stroke-width="1.2"/>
<line x1="204.4" y1="460.2" x2="204.4" y2="501.4" stroke="#7a7a7a" stroke-width="1.2"/>
<line x1="207.6" y1="444.3" x2="207.6" y2="501.4" stroke="#7a7a7a" stroke-width="1.2"/>
<line x1="210.8" y1="432.3" x2="210.8" y2="501.4" stroke="#7a7a7a" stroke-width="1.2"/>
<line x1="213.9" y1="438.8" x2="213.9" y2="501.4" stroke="#7a7a7a" stroke-width="1.2"/>
<line x1="217.1" y1="456.3" x2="217.1" y2="501.4" stroke="#7a7a7a" stroke-width="1.2"/>
<line x1="220.3" y1="456.5" x2="220.3" y2="501.4" stroke="#7a7a7a" stroke-width="1.2"/>
<line x1="223.5" y1="442.5" x2="223.5" y2="501.4" stroke="#7a7a7a" stroke-width="1.2"/>
<line x1="226.6" y1="445.1" x2="226.6" y2="501.4" stroke="#7a7a7a" stroke-width="1.2"/>
<line x1="229.8" y1="458.2" x2="229.8" y2="501.4" stroke="#7a7a7a" stroke-width="1.2"/>
<line x1="104.6" y1="423.8" x2="104.6" y2="501.8" stroke="#505050" stroke-width="1.5"/>
<text transform="translate(107.4,507.7) rotate(-90)" font-size="7" font-weight="bold" text-anchor="end" fill="#262626">18</text>
<text transform="translate(117.3,507.7) rotate(-90)" font-size="7" font-weight="bold" text-anchor="end" fill="#262626">18</text>
<text transform="translate(127.1,507.7) rotate(-90)" font-size="7" font-weight="bold" text-anchor="end" fill="#262626">18</text>
<text transform="translate(137.0,507.7) rotate(-90)" font-size="7" font-weight="bold" text-anchor="end" fill="#262626">18</text>
<text transform="translate(146.9,507.7) rotate(-90)" font-size="7" font-weight="bold" text-anchor="end" fill="#262626">18</text>
<text transform="translate(156.7,507.7) rotate(-90)" font-size="7" font-weight="bold" text-anchor="end" fill="#262626">20</text>
<text transform="translate(166.6,507.7) rotate(-90)" font-size="7" font-weight="bold" text-anchor="end" fill="#262626">22</text>
<text transform="translate(176.5,507.7) rotate(-90)" font-size="7" font-weight="bold" text-anchor="end" fill="#262626">23</text>
<text transform="translate(186.3,507.7) rotate(-90)" font-size="7" font-weight="bold" text-anchor="end" fill="#262626">22</text>
<text transform="translate(196.2,507.7) rotate(-90)" font-size="7" font-weight="bold" text-anchor="end" fill="#262626">21</text>
<text transform="translate(206.0,507.7) rotate(-90)" font-size="7" font-weight="bold" text-anchor="end" fill="#262626">21</text>
<text transform="translate(215.9,507.7) rotate(-90)" font-size="7" font-weight="bold" text-anchor="end" fill="#262626">24</text>
<text transform="translate(225.8,507.7) rotate(-90)" font-size="7" font-weight="bold" text-anchor="end" fill="#262626">30</text>
<text transform="translate(235.6,507.7) rotate(-90)" font-size="7" font-weight="bold" text-anchor="end" fill="#262626">32</text>
<text x="169.7" y="526.5" font-size="9.5" font-weight="bold" text-anchor="middle" fill="#262626">Shear stress [Pa]</text>
<polyline points="104.6,442.4 107.6,444.2 140.7,444.2 145.8,445.5 166.2,446.0 176.4,448.5 184.0,454.4 189.0,456.4 201.8,459.5 212.0,462.0 233.0,469.6" fill="none" stroke="#f26b21" stroke-width="1.8" stroke-linejoin="round" stroke-linecap="round"/>
<polyline points="104.6,440.9 112.7,441.6 145.8,441.6 153.5,443.4 166.2,444.7 176.4,448.0 181.4,452.6 187.8,462.8 194.2,465.8 201.8,471.0 208.2,477.3 212.0,481.0 218.3,479.0 224.7,483.1 233.0,483.6" fill="none" stroke="#1f5f8f" stroke-width="1.8" stroke-linejoin="round" stroke-linecap="round"/>
<text x="320.7" y="415.0" font-size="10.5" text-anchor="start" fill="#262626">RE15mR (1.5)</text>
<line x1="352.6" y1="424.4" x2="483.0" y2="424.4" stroke="#d9d9d9" stroke-width="1"/>
<line x1="352.6" y1="451.1" x2="483.0" y2="451.1" stroke="#d9d9d9" stroke-width="1"/>
<line x1="352.6" y1="477.0" x2="483.0" y2="477.0" stroke="#d9d9d9" stroke-width="1"/>
<line x1="352.6" y1="503.3" x2="483.0" y2="503.3" stroke="#d9d9d9" stroke-width="1"/>
<text x="346.9" y="426.9" font-size="7" text-anchor="end" fill="#404040">1000</text>
<text x="346.9" y="453.6" font-size="7" text-anchor="end" fill="#404040">100</text>
<text x="346.9" y="479.5" font-size="7" text-anchor="end" fill="#404040">10</text>
<text x="346.9" y="505.8" font-size="7" text-anchor="end" fill="#404040">1</text>
<text transform="translate(326.4,463.8) rotate(-90)" font-size="9.5" font-weight="bold" text-anchor="middle" fill="#262626">G'  [Pa]  G'' [Pa]</text>
<text x="493.8" y="426.5" font-size="7" text-anchor="middle" fill="#595959">7</text>
<text x="493.8" y="437.7" font-size="7" text-anchor="middle" fill="#595959">6</text>
<text x="493.8" y="449.0" font-size="7" text-anchor="middle" fill="#595959">5</text>
<text x="493.8" y="460.2" font-size="7" text-anchor="middle" fill="#595959">4</text>
<text x="493.8" y="471.4" font-size="7" text-anchor="middle" fill="#595959">3</text>
<text x="493.8" y="482.6" font-size="7" text-anchor="middle" fill="#595959">2</text>
<text x="493.8" y="493.9" font-size="7" text-anchor="middle" fill="#595959">1</text>
<text x="493.8" y="505.1" font-size="7" text-anchor="middle" fill="#595959">0</text>
<text transform="translate(508.1,464.3) rotate(-90)" font-size="9.5" font-weight="bold" text-anchor="middle" fill="#262626">tanδ [Pa]</text>
<line x1="353.6" y1="486.7" x2="353.6" y2="503.3" stroke="#7a7a7a" stroke-width="1.2"/>
<line x1="356.9" y1="486.8" x2="356.9" y2="503.3" stroke="#7a7a7a" stroke-width="1.2"/>
<line x1="360.3" y1="486.8" x2="360.3" y2="503.3" stroke="#7a7a7a" stroke-width="1.2"/>
<line x1="363.6" y1="486.9" x2="363.6" y2="503.3" stroke="#7a7a7a" stroke-width="1.2"/>
<line x1="366.9" y1="486.9" x2="366.9" y2="503.3" stroke="#7a7a7a" stroke-width="1.2"/>
<line x1="370.3" y1="487.0" x2="370.3" y2="503.3" stroke="#7a7a7a" stroke-width="1.2"/>
<line x1="373.6" y1="487.0" x2="373.6" y2="503.3" stroke="#7a7a7a" stroke-width="1.2"/>
<line x1="376.9" y1="487.1" x2="376.9" y2="503.3" stroke="#7a7a7a" stroke-width="1.2"/>
<line x1="380.3" y1="487.1" x2="380.3" y2="503.3" stroke="#7a7a7a" stroke-width="1.2"/>
<line x1="383.6" y1="487.2" x2="383.6" y2="503.3" stroke="#7a7a7a" stroke-width="1.2"/>
<line x1="386.9" y1="487.2" x2="386.9" y2="503.3" stroke="#7a7a7a" stroke-width="1.2"/>
<line x1="390.3" y1="487.3" x2="390.3" y2="503.3" stroke="#7a7a7a" stroke-width="1.2"/>
<line x1="393.6" y1="487.4" x2="393.6" y2="503.3" stroke="#7a7a7a" stroke-width="1.2"/>
<line x1="396.9" y1="487.4" x2="396.9" y2="503.3" stroke="#7a7a7a" stroke-width="1.2"/>
<line x1="400.3" y1="487.5" x2="400.3" y2="503.3" stroke="#7a7a7a" stroke-width="1.2"/>
<line x1="403.6" y1="487.2" x2="403.6" y2="503.3" stroke="#7a7a7a" stroke-width="1.2"/>
<line x1="406.9" y1="486.1" x2="406.9" y2="503.3" stroke="#7a7a7a" stroke-width="1.2"/>
<line x1="410.3" y1="485.4" x2="410.3" y2="503.3" stroke="#7a7a7a" stroke-width="1.2"/>
<line x1="413.6" y1="483.7" x2="413.6" y2="503.3" stroke="#7a7a7a" stroke-width="1.2"/>
<line x1="417.0" y1="482.2" x2="417.0" y2="503.3" stroke="#7a7a7a" stroke-width="1.2"/>
<line x1="420.3" y1="480.5" x2="420.3" y2="503.3" stroke="#7a7a7a" stroke-width="1.2"/>
<line x1="423.6" y1="477.5" x2="423.6" y2="503.3" stroke="#7a7a7a" stroke-width="1.2"/>
<line x1="427.0" y1="473.3" x2="427.0" y2="503.3" stroke="#7a7a7a" stroke-width="1.2"/>
<line x1="430.3" y1="469.8" x2="430.3" y2="503.3" stroke="#7a7a7a" stroke-width="1.2"/>
<line x1="433.6" y1="465.6" x2="433.6" y2="503.3" stroke="#7a7a7a" stroke-width="1.2"/>
<line x1="437.0" y1="463.8" x2="437.0" y2="503.3" stroke="#7a7a7a" stroke-width="1.2"/>
<line x1="440.3" y1="465.1" x2="440.3" y2="503.3" stroke="#7a7a7a" stroke-width="1.2"/>
<line x1="443.6" y1="465.0" x2="443.6" y2="503.3" stroke="#7a7a7a" stroke-width="1.2"/>
<line x1="447.0" y1="464.5" x2="447.0" y2="503.3" stroke="#7a7a7a" stroke-width="1.2"/>
<line x1="450.3" y1="469.4" x2="450.3" y2="503.3" stroke="#7a7a7a" stroke-width="1.2"/>
<line x1="453.6" y1="477.0" x2="453.6" y2="503.3" stroke="#7a7a7a" stroke-width="1.2"/>
<line x1="457.0" y1="479.0" x2="457.0" y2="503.3" stroke="#7a7a7a" stroke-width="1.2"/>
<line x1="460.3" y1="471.3" x2="460.3" y2="503.3" stroke="#7a7a7a" stroke-width="1.2"/>
<line x1="463.6" y1="454.2" x2="463.6" y2="503.3" stroke="#7a7a7a" stroke-width="1.2"/>
<line x1="467.0" y1="436.5" x2="467.0" y2="503.3" stroke="#7a7a7a" stroke-width="1.2"/>
<line x1="470.3" y1="445.8" x2="470.3" y2="503.3" stroke="#7a7a7a" stroke-width="1.2"/>
<line x1="473.6" y1="442.8" x2="473.6" y2="503.3" stroke="#7a7a7a" stroke-width="1.2"/>
<line x1="477.0" y1="444.4" x2="477.0" y2="503.3" stroke="#7a7a7a" stroke-width="1.2"/>
<line x1="480.3" y1="429.5" x2="480.3" y2="503.3" stroke="#7a7a7a" stroke-width="1.2"/>
<line x1="352.6" y1="424.0" x2="352.6" y2="503.6" stroke="#505050" stroke-width="1.5"/>
<text transform="translate(356.0,507.7) rotate(-90)" font-size="7" font-weight="bold" text-anchor="end" fill="#262626">16</text>
<text transform="translate(366.0,507.7) rotate(-90)" font-size="7" font-weight="bold" text-anchor="end" fill="#262626">16</text>
<text transform="translate(375.9,507.7) rotate(-90)" font-size="7" font-weight="bold" text-anchor="end" fill="#262626">16</text>
<text transform="translate(385.9,507.7) rotate(-90)" font-size="7" font-weight="bold" text-anchor="end" fill="#262626">16</text>
<text transform="translate(395.9,507.7) rotate(-90)" font-size="7" font-weight="bold" text-anchor="end" fill="#262626">16</text>
<text transform="translate(405.8,507.7) rotate(-90)" font-size="7" font-weight="bold" text-anchor="end" fill="#262626">16</text>
<text transform="translate(415.8,507.7) rotate(-90)" font-size="7" font-weight="bold" text-anchor="end" fill="#262626">17</text>
<text transform="translate(425.8,507.7) rotate(-90)" font-size="7" font-weight="bold" text-anchor="end" fill="#262626">18</text>
<text transform="translate(435.7,507.7) rotate(-90)" font-size="7" font-weight="bold" text-anchor="end" fill="#262626">19</text>
<text transform="translate(445.7,507.7) rotate(-90)" font-size="7" font-weight="bold" text-anchor="end" fill="#262626">22</text>
<text transform="translate(455.6,507.7) rotate(-90)" font-size="7" font-weight="bold" text-anchor="end" fill="#262626">27</text>
<text transform="translate(465.6,507.7) rotate(-90)" font-size="7" font-weight="bold" text-anchor="end" fill="#262626">30</text>
<text transform="translate(475.6,507.7) rotate(-90)" font-size="7" font-weight="bold" text-anchor="end" fill="#262626">32</text>
<text transform="translate(485.5,507.7) rotate(-90)" font-size="7" font-weight="bold" text-anchor="end" fill="#262626">35</text>
<text x="419.7" y="526.5" font-size="9.5" font-weight="bold" text-anchor="middle" fill="#262626">Shear stress [Pa]</text>
<polyline points="352.6,432.5 360.7,433.8 400.2,433.8 409.0,435.8 421.8,439.6 429.5,443.5 437.0,445.5 447.3,446.5 460.0,451.1 470.2,456.2 482.9,462.5" fill="none" stroke="#f26b21" stroke-width="1.8" stroke-linejoin="round" stroke-linecap="round"/>
<polyline points="352.6,436.3 360.7,437.6 400.2,437.6 406.5,439.6 414.2,442.7 421.8,448.5 429.5,454.9 437.0,458.7 441.0,458.2 447.3,459.5 454.9,457.5 460.0,461.8 465.0,472.7 470.2,476.0 475.3,477.8 482.9,489.8" fill="none" stroke="#1f5f8f" stroke-width="1.8" stroke-linejoin="round" stroke-linecap="round"/>
<text x="25.5" y="554.9" font-size="12.5" font-weight="bold" text-anchor="start" fill="#111">A</text>
<text x="263.3" y="557.0" font-size="13" font-weight="bold" text-anchor="start" fill="#111">dECM</text>
<text x="14.9" y="568.2" font-size="10.5" text-anchor="start" fill="#262626">BREF - A</text>
<line x1="44.6" y1="577.6" x2="171.0" y2="577.6" stroke="#d9d9d9" stroke-width="1"/>
<line x1="44.6" y1="601.0" x2="171.0" y2="601.0" stroke="#d9d9d9" stroke-width="1"/>
<line x1="44.6" y1="624.7" x2="171.0" y2="624.7" stroke="#d9d9d9" stroke-width="1"/>
<line x1="44.6" y1="647.8" x2="171.0" y2="647.8" stroke="#d9d9d9" stroke-width="1"/>
<text x="38.2" y="580.1" font-size="7" text-anchor="end" fill="#404040">10 000</text>
<text x="38.2" y="603.5" font-size="7" text-anchor="end" fill="#404040">1 000</text>
<text x="38.2" y="627.2" font-size="7" text-anchor="end" fill="#404040">100</text>
<text x="38.2" y="650.3" font-size="7" text-anchor="end" fill="#404040">10</text>
<text transform="translate(19.7,613.0) rotate(-90)" font-size="9.5" font-weight="bold" text-anchor="middle" fill="#262626">G'  [Pa] G'' [Pa]</text>
<line x1="44.8" y1="577.3" x2="44.8" y2="648.3" stroke="#505050" stroke-width="1.5"/>
<text transform="translate(48.2,652.5) rotate(-90)" font-size="6" font-weight="bold" text-anchor="end" fill="#404040">35</text>
<text transform="translate(53.4,652.5) rotate(-90)" font-size="6" font-weight="bold" text-anchor="end" fill="#404040">34</text>
<text transform="translate(58.6,652.5) rotate(-90)" font-size="6" font-weight="bold" text-anchor="end" fill="#404040">33</text>
<text transform="translate(63.8,652.5) rotate(-90)" font-size="6" font-weight="bold" text-anchor="end" fill="#404040">32</text>
<text transform="translate(69.0,652.5) rotate(-90)" font-size="6" font-weight="bold" text-anchor="end" fill="#404040">31</text>
<text transform="translate(74.2,652.5) rotate(-90)" font-size="6" font-weight="bold" text-anchor="end" fill="#404040">30</text>
<text transform="translate(79.5,652.5) rotate(-90)" font-size="6" font-weight="bold" text-anchor="end" fill="#404040">29</text>
<text transform="translate(84.7,652.5) rotate(-90)" font-size="6" font-weight="bold" text-anchor="end" fill="#404040">28</text>
<text transform="translate(89.9,652.5) rotate(-90)" font-size="6" font-weight="bold" text-anchor="end" fill="#404040">27</text>
<text transform="translate(95.1,652.5) rotate(-90)" font-size="6" font-weight="bold" text-anchor="end" fill="#404040">26</text>
<text transform="translate(100.3,652.5) rotate(-90)" font-size="6" font-weight="bold" text-anchor="end" fill="#404040">25</text>
<text transform="translate(105.6,652.5) rotate(-90)" font-size="6" font-weight="bold" text-anchor="end" fill="#404040">24</text>
<text transform="translate(110.8,652.5) rotate(-90)" font-size="6" font-weight="bold" text-anchor="end" fill="#404040">23</text>
<text transform="translate(116.0,652.5) rotate(-90)" font-size="6" font-weight="bold" text-anchor="end" fill="#404040">22</text>
<text transform="translate(121.2,652.5) rotate(-90)" font-size="6" font-weight="bold" text-anchor="end" fill="#404040">21</text>
<text transform="translate(126.4,652.5) rotate(-90)" font-size="6" font-weight="bold" text-anchor="end" fill="#404040">20</text>
<text transform="translate(131.6,652.5) rotate(-90)" font-size="6" font-weight="bold" text-anchor="end" fill="#404040">19</text>
<text transform="translate(136.9,652.5) rotate(-90)" font-size="6" font-weight="bold" text-anchor="end" fill="#404040">18</text>
<text transform="translate(142.1,652.5) rotate(-90)" font-size="6" font-weight="bold" text-anchor="end" fill="#404040">17</text>
<text transform="translate(147.3,652.5) rotate(-90)" font-size="6" font-weight="bold" text-anchor="end" fill="#404040">16</text>
<text transform="translate(152.5,652.5) rotate(-90)" font-size="6" font-weight="bold" text-anchor="end" fill="#404040">15</text>
<text transform="translate(157.7,652.5) rotate(-90)" font-size="6" font-weight="bold" text-anchor="end" fill="#404040">14</text>
<text transform="translate(162.9,652.5) rotate(-90)" font-size="6" font-weight="bold" text-anchor="end" fill="#404040">13</text>
<text transform="translate(168.2,652.5) rotate(-90)" font-size="6" font-weight="bold" text-anchor="end" fill="#404040">11</text>
<text x="107.5" y="671.5" font-size="9.5" font-weight="bold" text-anchor="middle" fill="#262626">Temperature [ºC]</text>
<polyline points="44.6,615.8 46.4,618.9 50.2,617.8 65.5,617.8 70.5,618.4 108.7,618.4 113.8,616.8 120.0,614.4 127.0,609.5 134.5,604.5 140.0,601.3 145.5,598.4 151.0,595.8 156.4,593.6 163.0,590.5 171.0,587.0" fill="none" stroke="#1e5e28" stroke-width="1.8" stroke-linejoin="round" stroke-linecap="round"/>
<polyline points="44.6,617.0 46.4,619.6 50.2,617.8 57.8,617.0 108.7,617.0 116.4,615.6 121.8,614.4 127.0,613.6 141.8,611.6 157.0,609.3 171.0,607.2" fill="none" stroke="#d9161c" stroke-width="1.8" stroke-linejoin="round" stroke-linecap="round"/>
<line x1="160.4" y1="683.0" x2="180.7" y2="683.0" stroke="#1e5e28" stroke-width="1.5"/>
<text x="183.6" y="686.5" font-size="10" text-anchor="start" fill="#404040">G'</text>
<line x1="202.0" y1="683.0" x2="223.0" y2="683.0" stroke="#d9161c" stroke-width="1.5"/>
<text x="226.0" y="686.5" font-size="10" text-anchor="start" fill="#404040">G''</text>
<text x="192.4" y="567.3" font-size="10.5" text-anchor="start" fill="#262626">A15 (0.1)</text>
<line x1="222.4" y1="576.8" x2="347.3" y2="576.8" stroke="#d9d9d9" stroke-width="1"/>
<line x1="222.4" y1="595.0" x2="347.3" y2="595.0" stroke="#d9d9d9" stroke-width="1"/>
<line x1="222.4" y1="613.6" x2="347.3" y2="613.6" stroke="#d9d9d9" stroke-width="1"/>
<line x1="222.4" y1="631.7" x2="347.3" y2="631.7" stroke="#d9d9d9" stroke-width="1"/>
<line x1="222.4" y1="649.5" x2="347.3" y2="649.5" stroke="#d9d9d9" stroke-width="1"/>
<text x="215.8" y="579.3" font-size="7" text-anchor="end" fill="#404040">10 000</text>
<text x="215.8" y="597.5" font-size="7" text-anchor="end" fill="#404040">1 000</text>
<text x="215.8" y="616.1" font-size="7" text-anchor="end" fill="#404040">100</text>
<text x="215.8" y="634.2" font-size="7" text-anchor="end" fill="#404040">10</text>
<text x="215.8" y="652.0" font-size="7" text-anchor="end" fill="#404040">1</text>
<text transform="translate(198.7,617.0) rotate(-90)" font-size="9.5" font-weight="bold" text-anchor="middle" fill="#262626">G'  [Pa] G'' [Pa]</text>
<line x1="222.4" y1="576.5" x2="222.4" y2="649.8" stroke="#1e5e28" stroke-width="1.5"/>
<text transform="translate(224.7,654.0) rotate(-90)" font-size="6.5" font-weight="bold" text-anchor="end" fill="#262626">35</text>
<text transform="translate(234.1,654.0) rotate(-90)" font-size="6.5" font-weight="bold" text-anchor="end" fill="#262626">33</text>
<text transform="translate(243.4,654.0) rotate(-90)" font-size="6.5" font-weight="bold" text-anchor="end" fill="#262626">31</text>
<text transform="translate(252.8,654.0) rotate(-90)" font-size="6.5" font-weight="bold" text-anchor="end" fill="#262626">29</text>
<text transform="translate(262.2,654.0) rotate(-90)" font-size="6.5" font-weight="bold" text-anchor="end" fill="#262626">27</text>
<text transform="translate(271.5,654.0) rotate(-90)" font-size="6.5" font-weight="bold" text-anchor="end" fill="#262626">26</text>
<text transform="translate(280.9,654.0) rotate(-90)" font-size="6.5" font-weight="bold" text-anchor="end" fill="#262626">24</text>
<text transform="translate(290.2,654.0) rotate(-90)" font-size="6.5" font-weight="bold" text-anchor="end" fill="#262626">22</text>
<text transform="translate(299.6,654.0) rotate(-90)" font-size="6.5" font-weight="bold" text-anchor="end" fill="#262626">20</text>
<text transform="translate(308.9,654.0) rotate(-90)" font-size="6.5" font-weight="bold" text-anchor="end" fill="#262626">18</text>
<text transform="translate(318.3,654.0) rotate(-90)" font-size="6.5" font-weight="bold" text-anchor="end" fill="#262626">16</text>
<text transform="translate(327.6,654.0) rotate(-90)" font-size="6.5" font-weight="bold" text-anchor="end" fill="#262626">14</text>
<text transform="translate(337.0,654.0) rotate(-90)" font-size="6.5" font-weight="bold" text-anchor="end" fill="#262626">12</text>
<text transform="translate(346.3,654.0) rotate(-90)" font-size="6.5" font-weight="bold" text-anchor="end" fill="#262626">10</text>
<text x="284.5" y="674.0" font-size="9.5" font-weight="bold" text-anchor="middle" fill="#262626">Temperature [°C]</text>
<polyline points="222.7,604.7 225.0,605.8 250.5,605.8 255.0,605.2 280.0,605.1 290.7,604.7 297.0,602.5 303.6,598.9 316.7,592.4 332.0,587.0 347.3,584.3" fill="none" stroke="#1e5e28" stroke-width="1.8" stroke-linejoin="round" stroke-linecap="round"/>
<polyline points="222.7,610.0 225.0,611.2 247.5,610.4 266.0,609.3 284.5,608.5 292.3,607.3 299.3,605.3 316.7,603.3 347.3,600.7" fill="none" stroke="#d9161c" stroke-width="1.8" stroke-linejoin="round" stroke-linecap="round"/>
<line x1="340.7" y1="683.0" x2="360.4" y2="683.0" stroke="#1e5e28" stroke-width="1.5"/>
<text x="362.8" y="686.5" font-size="10" text-anchor="start" fill="#404040">G'</text>
<line x1="379.7" y1="683.0" x2="401.0" y2="683.0" stroke="#d9161c" stroke-width="1.5"/>
<text x="403.3" y="686.5" font-size="10" text-anchor="start" fill="#404040">G''</text>
<text x="373.1" y="569.1" font-size="10.5" text-anchor="start" fill="#262626">A15 (1.5)</text>
<line x1="407.6" y1="577.3" x2="536.2" y2="577.3" stroke="#d9d9d9" stroke-width="1"/>
<line x1="407.6" y1="594.5" x2="536.2" y2="594.5" stroke="#d9d9d9" stroke-width="1"/>
<line x1="407.6" y1="612.7" x2="536.2" y2="612.7" stroke="#d9d9d9" stroke-width="1"/>
<line x1="407.6" y1="631.8" x2="536.2" y2="631.8" stroke="#d9d9d9" stroke-width="1"/>
<line x1="407.6" y1="650.0" x2="536.2" y2="650.0" stroke="#d9d9d9" stroke-width="1"/>
<text x="400.9" y="579.8" font-size="7" text-anchor="end" fill="#404040">10 000</text>
<text x="400.9" y="597.0" font-size="7" text-anchor="end" fill="#404040">1 000</text>
<text x="400.9" y="615.2" font-size="7" text-anchor="end" fill="#404040">100</text>
<text x="400.9" y="634.3" font-size="7" text-anchor="end" fill="#404040">10</text>
<text x="400.9" y="652.5" font-size="7" text-anchor="end" fill="#404040">1</text>
<text transform="translate(379.7,623.7) rotate(-90)" font-size="9.5" font-weight="bold" text-anchor="middle" fill="#262626">G'  [Pa] G'' [Pa]</text>
<line x1="407.6" y1="577.0" x2="407.6" y2="650.3" stroke="#505050" stroke-width="1.5"/>
<text transform="translate(410.6,652.5) rotate(-90)" font-size="6.8" font-weight="bold" text-anchor="end" fill="#262626">33</text>
<text transform="translate(417.7,652.5) rotate(-90)" font-size="6.8" font-weight="bold" text-anchor="end" fill="#262626">32</text>
<text transform="translate(424.8,652.5) rotate(-90)" font-size="6.8" font-weight="bold" text-anchor="end" fill="#262626">30</text>
<text transform="translate(431.9,652.5) rotate(-90)" font-size="6.8" font-weight="bold" text-anchor="end" fill="#262626">29</text>
<text transform="translate(439.0,652.5) rotate(-90)" font-size="6.8" font-weight="bold" text-anchor="end" fill="#262626">28</text>
<text transform="translate(446.1,652.5) rotate(-90)" font-size="6.8" font-weight="bold" text-anchor="end" fill="#262626">27</text>
<text transform="translate(453.2,652.5) rotate(-90)" font-size="6.8" font-weight="bold" text-anchor="end" fill="#262626">25</text>
<text transform="translate(460.3,652.5) rotate(-90)" font-size="6.8" font-weight="bold" text-anchor="end" fill="#262626">24</text>
<text transform="translate(467.4,652.5) rotate(-90)" font-size="6.8" font-weight="bold" text-anchor="end" fill="#262626">23</text>
<text transform="translate(474.5,652.5) rotate(-90)" font-size="6.8" font-weight="bold" text-anchor="end" fill="#262626">22</text>
<text transform="translate(481.6,652.5) rotate(-90)" font-size="6.8" font-weight="bold" text-anchor="end" fill="#262626">20</text>
<text transform="translate(488.7,652.5) rotate(-90)" font-size="6.8" font-weight="bold" text-anchor="end" fill="#262626">19</text>
<text transform="translate(495.8,652.5) rotate(-90)" font-size="6.8" font-weight="bold" text-anchor="end" fill="#262626">18</text>
<text transform="translate(502.9,652.5) rotate(-90)" font-size="6.8" font-weight="bold" text-anchor="end" fill="#262626">17</text>
<text transform="translate(510.0,652.5) rotate(-90)" font-size="6.8" font-weight="bold" text-anchor="end" fill="#262626">15</text>
<text transform="translate(517.1,652.5) rotate(-90)" font-size="6.8" font-weight="bold" text-anchor="end" fill="#262626">14</text>
<text transform="translate(524.2,652.5) rotate(-90)" font-size="6.8" font-weight="bold" text-anchor="end" fill="#262626">13</text>
<text transform="translate(531.3,652.5) rotate(-90)" font-size="6.8" font-weight="bold" text-anchor="end" fill="#262626">12</text>
<text transform="translate(538.4,652.5) rotate(-90)" font-size="6.8" font-weight="bold" text-anchor="end" fill="#262626">10</text>
<text x="470.5" y="675.0" font-size="9.5" font-weight="bold" text-anchor="middle" fill="#262626">Temperature [ºC]</text>
<polyline points="407.3,618.0 414.5,615.1 421.8,614.2 455.0,614.6 461.0,614.2 464.3,613.3 468.4,612.0 472.0,609.8 478.2,605.9 483.6,602.8 493.6,597.4 504.5,591.7 516.8,587.4 525.0,585.2 535.4,583.5" fill="none" stroke="#1e5e28" stroke-width="1.8" stroke-linejoin="round" stroke-linecap="round"/>
<polyline points="407.3,609.5 413.1,606.9 464.0,606.9 470.5,606.4 482.8,603.6 501.4,602.0 520.0,600.5 535.4,599.7" fill="none" stroke="#d9161c" stroke-width="1.8" stroke-linejoin="round" stroke-linecap="round"/>
<text x="17.3" y="698.0" font-size="12.5" font-weight="bold" text-anchor="start" fill="#111">B</text>
<text x="6.9" y="711.8" font-size="10.5" text-anchor="start" fill="#262626">BREF - A</text>
<line x1="37.8" y1="718.2" x2="146.0" y2="718.2" stroke="#d9d9d9" stroke-width="1"/>
<line x1="37.8" y1="753.6" x2="146.0" y2="753.6" stroke="#d9d9d9" stroke-width="1"/>
<text x="31.8" y="720.7" font-size="7" text-anchor="end" fill="#404040">1000</text>
<text x="31.8" y="756.1" font-size="7" text-anchor="end" fill="#404040">100</text>
<text x="31.8" y="791.5" font-size="7" text-anchor="end" fill="#404040">10</text>
<text transform="translate(15.1,757.0) rotate(-90)" font-size="9.5" font-weight="bold" text-anchor="middle" fill="#262626">G'  [Pa] G'' [Pa]</text>
<line x1="38.8" y1="739.1" x2="38.8" y2="789.0" stroke="#7a7a7a" stroke-width="1.4"/>
<line x1="41.8" y1="741.3" x2="41.8" y2="789.0" stroke="#7a7a7a" stroke-width="1.4"/>
<line x1="44.7" y1="741.7" x2="44.7" y2="789.0" stroke="#7a7a7a" stroke-width="1.4"/>
<line x1="47.7" y1="742.0" x2="47.7" y2="789.0" stroke="#7a7a7a" stroke-width="1.4"/>
<line x1="50.7" y1="742.3" x2="50.7" y2="789.0" stroke="#7a7a7a" stroke-width="1.4"/>
<line x1="53.6" y1="742.7" x2="53.6" y2="789.0" stroke="#7a7a7a" stroke-width="1.4"/>
<line x1="56.6" y1="743.8" x2="56.6" y2="789.0" stroke="#7a7a7a" stroke-width="1.4"/>
<line x1="59.6" y1="744.9" x2="59.6" y2="789.0" stroke="#7a7a7a" stroke-width="1.4"/>
<line x1="62.5" y1="745.8" x2="62.5" y2="789.0" stroke="#7a7a7a" stroke-width="1.4"/>
<line x1="65.5" y1="746.7" x2="65.5" y2="789.0" stroke="#7a7a7a" stroke-width="1.4"/>
<line x1="68.5" y1="747.4" x2="68.5" y2="789.0" stroke="#7a7a7a" stroke-width="1.4"/>
<line x1="71.4" y1="748.2" x2="71.4" y2="789.0" stroke="#7a7a7a" stroke-width="1.4"/>
<line x1="74.4" y1="748.7" x2="74.4" y2="789.0" stroke="#7a7a7a" stroke-width="1.4"/>
<line x1="77.4" y1="749.4" x2="77.4" y2="789.0" stroke="#7a7a7a" stroke-width="1.4"/>
<line x1="80.3" y1="750.1" x2="80.3" y2="789.0" stroke="#7a7a7a" stroke-width="1.4"/>
<line x1="83.3" y1="750.5" x2="83.3" y2="789.0" stroke="#7a7a7a" stroke-width="1.4"/>
<line x1="86.3" y1="750.6" x2="86.3" y2="789.0" stroke="#7a7a7a" stroke-width="1.4"/>
<line x1="89.2" y1="750.3" x2="89.2" y2="789.0" stroke="#7a7a7a" stroke-width="1.4"/>
<line x1="92.2" y1="750.1" x2="92.2" y2="789.0" stroke="#7a7a7a" stroke-width="1.4"/>
<line x1="95.2" y1="750.4" x2="95.2" y2="789.0" stroke="#7a7a7a" stroke-width="1.4"/>
<line x1="98.1" y1="749.6" x2="98.1" y2="789.0" stroke="#7a7a7a" stroke-width="1.4"/>
<line x1="101.1" y1="748.1" x2="101.1" y2="789.0" stroke="#7a7a7a" stroke-width="1.4"/>
<line x1="104.1" y1="746.7" x2="104.1" y2="789.0" stroke="#7a7a7a" stroke-width="1.4"/>
<line x1="107.0" y1="746.3" x2="107.0" y2="789.0" stroke="#7a7a7a" stroke-width="1.4"/>
<line x1="110.0" y1="746.5" x2="110.0" y2="789.0" stroke="#7a7a7a" stroke-width="1.4"/>
<line x1="113.0" y1="748.1" x2="113.0" y2="789.0" stroke="#7a7a7a" stroke-width="1.4"/>
<line x1="115.9" y1="750.7" x2="115.9" y2="789.0" stroke="#7a7a7a" stroke-width="1.4"/>
<line x1="118.9" y1="753.4" x2="118.9" y2="789.0" stroke="#7a7a7a" stroke-width="1.4"/>
<line x1="121.9" y1="755.8" x2="121.9" y2="789.0" stroke="#7a7a7a" stroke-width="1.4"/>
<line x1="124.8" y1="758.2" x2="124.8" y2="789.0" stroke="#7a7a7a" stroke-width="1.4"/>
<line x1="127.8" y1="760.1" x2="127.8" y2="789.0" stroke="#7a7a7a" stroke-width="1.4"/>
<line x1="130.8" y1="761.3" x2="130.8" y2="789.0" stroke="#7a7a7a" stroke-width="1.4"/>
<line x1="133.7" y1="757.7" x2="133.7" y2="789.0" stroke="#7a7a7a" stroke-width="1.4"/>
<line x1="136.7" y1="752.5" x2="136.7" y2="789.0" stroke="#7a7a7a" stroke-width="1.4"/>
<line x1="139.7" y1="745.6" x2="139.7" y2="789.0" stroke="#7a7a7a" stroke-width="1.4"/>
<line x1="142.6" y1="735.1" x2="142.6" y2="789.0" stroke="#7a7a7a" stroke-width="1.4"/>
<line x1="145.6" y1="728.1" x2="145.6" y2="789.0" stroke="#7a7a7a" stroke-width="1.4"/>
<line x1="37.8" y1="718.0" x2="37.8" y2="789.3" stroke="#505050" stroke-width="1.5"/>
<text x="154.2" y="719.8" font-size="7" text-anchor="start" fill="#595959">1</text>
<text x="154.2" y="727.0" font-size="7" text-anchor="start" fill="#595959">0.9</text>
<text x="154.2" y="734.2" font-size="7" text-anchor="start" fill="#595959">0.8</text>
<text x="154.2" y="741.5" font-size="7" text-anchor="start" fill="#595959">0.7</text>
<text x="154.2" y="748.7" font-size="7" text-anchor="start" fill="#595959">0.6</text>
<text x="154.2" y="755.9" font-size="7" text-anchor="start" fill="#595959">0.5</text>
<text x="154.2" y="763.1" font-size="7" text-anchor="start" fill="#595959">0.4</text>
<text x="154.2" y="770.3" font-size="7" text-anchor="start" fill="#595959">0.3</text>
<text x="154.2" y="777.6" font-size="7" text-anchor="start" fill="#595959">0.2</text>
<text x="154.2" y="784.8" font-size="7" text-anchor="start" fill="#595959">0.1</text>
<text x="154.2" y="792.0" font-size="7" text-anchor="start" fill="#595959">0</text>
<text transform="translate(177.0,754.0) rotate(-90)" font-size="9.5" font-weight="bold" text-anchor="middle" fill="#262626">tanδ [-]</text>
<text transform="translate(41.5,796.0) rotate(-90)" font-size="7" font-weight="bold" text-anchor="end" fill="#262626">17</text>
<text transform="translate(55.0,796.0) rotate(-90)" font-size="7" font-weight="bold" text-anchor="end" fill="#262626">19</text>
<text transform="translate(68.5,796.0) rotate(-90)" font-size="7" font-weight="bold" text-anchor="end" fill="#262626">22</text>
<text transform="translate(82.1,796.0) rotate(-90)" font-size="7" font-weight="bold" text-anchor="end" fill="#262626">25</text>
<text transform="translate(95.6,796.0) rotate(-90)" font-size="7" font-weight="bold" text-anchor="end" fill="#262626">38</text>
<text transform="translate(109.1,796.0) rotate(-90)" font-size="7" font-weight="bold" text-anchor="end" fill="#262626">66</text>
<text transform="translate(122.6,796.0) rotate(-90)" font-size="7" font-weight="bold" text-anchor="end" fill="#262626">123</text>
<text transform="translate(136.1,796.0) rotate(-90)" font-size="7" font-weight="bold" text-anchor="end" fill="#262626">239</text>
<text x="92.4" y="819.0" font-size="9.5" font-weight="bold" text-anchor="middle" fill="#262626">Shear stress [Pa]</text>
<polyline points="37.6,741.6 47.5,740.1 62.7,737.5 80.2,735.3 95.5,736.8 110.7,737.3 117.3,736.2 128.2,733.5 134.7,735.3 141.3,739.0 145.6,742.3" fill="none" stroke="#1e5e28" stroke-width="1.8" stroke-linejoin="round" stroke-linecap="round"/>
<polyline points="37.6,746.2 99.8,745.5 105.3,744.5 112.9,745.5 121.6,747.1 130.4,748.2 136.9,744.5 145.6,742.5" fill="none" stroke="#d9161c" stroke-width="1.8" stroke-linejoin="round" stroke-linecap="round"/>
<line x1="123.2" y1="827.3" x2="144.0" y2="827.3" stroke="#808080" stroke-width="5"/>
<text x="147.0" y="831.0" font-size="10" text-anchor="start" fill="#404040">tanδ</text>
<line x1="175.5" y1="827.3" x2="197.0" y2="827.3" stroke="#1e5e28" stroke-width="1.5"/>
<text x="198.5" y="831.0" font-size="10" text-anchor="start" fill="#404040">G'</text>
<line x1="218.5" y1="827.3" x2="240.0" y2="827.3" stroke="#d9161c" stroke-width="1.5"/>
<text x="242.0" y="831.0" font-size="10" text-anchor="start" fill="#404040">G''</text>
<text x="193.0" y="712.0" font-size="10.5" text-anchor="start" fill="#262626">A15 (0.1)</text>
<line x1="225.6" y1="718.6" x2="332.7" y2="718.6" stroke="#d9d9d9" stroke-width="1"/>
<line x1="225.6" y1="736.0" x2="332.7" y2="736.0" stroke="#d9d9d9" stroke-width="1"/>
<line x1="225.6" y1="753.6" x2="332.7" y2="753.6" stroke="#d9d9d9" stroke-width="1"/>
<line x1="225.6" y1="771.0" x2="332.7" y2="771.0" stroke="#d9d9d9" stroke-width="1"/>
<text x="218.4" y="721.1" font-size="7" text-anchor="end" fill="#404040">10 000</text>
<text x="218.4" y="738.5" font-size="7" text-anchor="end" fill="#404040">1 000</text>
<text x="218.4" y="756.1" font-size="7" text-anchor="end" fill="#404040">100</text>
<text x="218.4" y="773.5" font-size="7" text-anchor="end" fill="#404040">10</text>
<text x="218.4" y="790.9" font-size="7" text-anchor="end" fill="#404040">1</text>
<text transform="translate(199.4,753.0) rotate(-90)" font-size="9.5" font-weight="bold" text-anchor="middle" fill="#262626">G'  [Pa] G'' [Pa]</text>
<line x1="226.5" y1="737.4" x2="226.5" y2="788.4" stroke="#808080" stroke-width="1.7"/>
<line x1="229.3" y1="738.9" x2="229.3" y2="788.4" stroke="#808080" stroke-width="1.7"/>
<line x1="232.1" y1="740.2" x2="232.1" y2="788.4" stroke="#808080" stroke-width="1.7"/>
<line x1="234.8" y1="741.8" x2="234.8" y2="788.4" stroke="#808080" stroke-width="1.7"/>
<line x1="237.6" y1="743.5" x2="237.6" y2="788.4" stroke="#808080" stroke-width="1.7"/>
<line x1="240.4" y1="745.5" x2="240.4" y2="788.4" stroke="#808080" stroke-width="1.7"/>
<line x1="243.2" y1="747.6" x2="243.2" y2="788.4" stroke="#808080" stroke-width="1.7"/>
<line x1="245.9" y1="749.7" x2="245.9" y2="788.4" stroke="#808080" stroke-width="1.7"/>
<line x1="248.7" y1="751.8" x2="248.7" y2="788.4" stroke="#808080" stroke-width="1.7"/>
<line x1="251.5" y1="753.9" x2="251.5" y2="788.4" stroke="#808080" stroke-width="1.7"/>
<line x1="254.3" y1="756.0" x2="254.3" y2="788.4" stroke="#808080" stroke-width="1.7"/>
<line x1="257.0" y1="757.8" x2="257.0" y2="788.4" stroke="#808080" stroke-width="1.7"/>
<line x1="259.8" y1="759.3" x2="259.8" y2="788.4" stroke="#808080" stroke-width="1.7"/>
<line x1="262.6" y1="760.4" x2="262.6" y2="788.4" stroke="#808080" stroke-width="1.7"/>
<line x1="265.4" y1="761.4" x2="265.4" y2="788.4" stroke="#808080" stroke-width="1.7"/>
<line x1="268.1" y1="762.3" x2="268.1" y2="788.4" stroke="#808080" stroke-width="1.7"/>
<line x1="270.9" y1="762.4" x2="270.9" y2="788.4" stroke="#808080" stroke-width="1.7"/>
<line x1="273.7" y1="762.5" x2="273.7" y2="788.4" stroke="#808080" stroke-width="1.7"/>
<line x1="276.5" y1="762.6" x2="276.5" y2="788.4" stroke="#808080" stroke-width="1.7"/>
<line x1="279.2" y1="762.2" x2="279.2" y2="788.4" stroke="#808080" stroke-width="1.7"/>
<line x1="282.0" y1="761.8" x2="282.0" y2="788.4" stroke="#808080" stroke-width="1.7"/>
<line x1="284.8" y1="761.4" x2="284.8" y2="788.4" stroke="#808080" stroke-width="1.7"/>
<line x1="287.6" y1="760.5" x2="287.6" y2="788.4" stroke="#808080" stroke-width="1.7"/>
<line x1="290.4" y1="759.6" x2="290.4" y2="788.4" stroke="#808080" stroke-width="1.7"/>
<line x1="293.1" y1="759.3" x2="293.1" y2="788.4" stroke="#808080" stroke-width="1.7"/>
<line x1="295.9" y1="760.6" x2="295.9" y2="788.4" stroke="#808080" stroke-width="1.7"/>
<line x1="298.7" y1="762.2" x2="298.7" y2="788.4" stroke="#808080" stroke-width="1.7"/>
<line x1="301.5" y1="763.7" x2="301.5" y2="788.4" stroke="#808080" stroke-width="1.7"/>
<line x1="304.2" y1="765.0" x2="304.2" y2="788.4" stroke="#808080" stroke-width="1.7"/>
<line x1="307.0" y1="766.2" x2="307.0" y2="788.4" stroke="#808080" stroke-width="1.7"/>
<line x1="309.8" y1="767.3" x2="309.8" y2="788.4" stroke="#808080" stroke-width="1.7"/>
<line x1="312.6" y1="768.4" x2="312.6" y2="788.4" stroke="#808080" stroke-width="1.7"/>
<line x1="315.3" y1="769.5" x2="315.3" y2="788.4" stroke="#808080" stroke-width="1.7"/>
<line x1="318.1" y1="770.5" x2="318.1" y2="788.4" stroke="#808080" stroke-width="1.7"/>
<line x1="320.9" y1="771.4" x2="320.9" y2="788.4" stroke="#808080" stroke-width="1.7"/>
<line x1="323.7" y1="772.0" x2="323.7" y2="788.4" stroke="#808080" stroke-width="1.7"/>
<line x1="326.4" y1="770.1" x2="326.4" y2="788.4" stroke="#808080" stroke-width="1.7"/>
<line x1="329.2" y1="747.9" x2="329.2" y2="788.4" stroke="#808080" stroke-width="1.7"/>
<line x1="332.0" y1="725.9" x2="332.0" y2="788.4" stroke="#808080" stroke-width="1.7"/>
<line x1="225.6" y1="718.0" x2="225.6" y2="788.7" stroke="#505050" stroke-width="1.5"/>
<text x="339.0" y="720.0" font-size="7.5" text-anchor="start" fill="#595959">0.6</text>
<text x="339.0" y="731.8" font-size="7.5" text-anchor="start" fill="#595959">0.5</text>
<text x="339.0" y="743.6" font-size="7.5" text-anchor="start" fill="#595959">0.4</text>
<text x="339.0" y="755.5" font-size="7.5" text-anchor="start" fill="#595959">0.3</text>
<text x="339.0" y="767.3" font-size="7.5" text-anchor="start" fill="#595959">0.2</text>
<text x="339.0" y="779.1" font-size="7.5" text-anchor="start" fill="#595959">0.1</text>
<text x="339.0" y="790.9" font-size="7.5" text-anchor="start" fill="#595959">0</text>
<text transform="translate(362.4,753.6) rotate(-90)" font-size="9.5" font-weight="bold" text-anchor="middle" fill="#262626">tanδ [-]</text>
<text transform="translate(228.7,795.6) rotate(-90)" font-size="7.5" font-weight="bold" text-anchor="end" fill="#262626">21</text>
<text transform="translate(238.3,795.6) rotate(-90)" font-size="7.5" font-weight="bold" text-anchor="end" fill="#262626">29</text>
<text transform="translate(247.9,795.6) rotate(-90)" font-size="7.5" font-weight="bold" text-anchor="end" fill="#262626">44</text>
<text transform="translate(257.6,795.6) rotate(-90)" font-size="7.5" font-weight="bold" text-anchor="end" fill="#262626">65</text>
<text transform="translate(267.2,795.6) rotate(-90)" font-size="7.5" font-weight="bold" text-anchor="end" fill="#262626">98</text>
<text transform="translate(276.8,795.6) rotate(-90)" font-size="7.5" font-weight="bold" text-anchor="end" fill="#262626">118</text>
<text transform="translate(286.4,795.6) rotate(-90)" font-size="7.5" font-weight="bold" text-anchor="end" fill="#262626">166</text>
<text transform="translate(296.0,795.6) rotate(-90)" font-size="7.5" font-weight="bold" text-anchor="end" fill="#262626">232</text>
<text transform="translate(305.6,795.6) rotate(-90)" font-size="7.5" font-weight="bold" text-anchor="end" fill="#262626">330</text>
<text transform="translate(315.3,795.6) rotate(-90)" font-size="7.5" font-weight="bold" text-anchor="end" fill="#262626">553</text>
<text transform="translate(324.9,795.6) rotate(-90)" font-size="7.5" font-weight="bold" text-anchor="end" fill="#262626">1 086</text>
<text transform="translate(334.5,795.6) rotate(-90)" font-size="7.5" font-weight="bold" text-anchor="end" fill="#262626">1 144</text>
<text x="275.3" y="817.5" font-size="9.5" font-weight="bold" text-anchor="middle" fill="#262626">Shear stress [Pa]</text>
<polyline points="225.5,730.3 235.3,731.4 244.0,730.7 254.9,730.7 263.6,732.0 285.5,733.5 302.9,735.1 313.8,734.2 322.6,732.5 328.0,732.5 332.4,735.7" fill="none" stroke="#1e5e28" stroke-width="1.8" stroke-linejoin="round" stroke-linecap="round"/>
<polyline points="225.5,736.8 233.1,737.9 248.4,740.1 261.5,742.3 272.4,744.5 283.3,744.9 294.2,745.5 302.9,747.3 313.8,747.3 324.7,747.3 329.1,742.3 332.4,740.1" fill="none" stroke="#d9161c" stroke-width="1.8" stroke-linejoin="round" stroke-linecap="round"/>
<line x1="296.4" y1="827.3" x2="315.5" y2="827.3" stroke="#808080" stroke-width="5"/>
<text x="318.0" y="831.0" font-size="10" text-anchor="start" fill="#404040">tanδ</text>
<line x1="348.0" y1="827.3" x2="369.0" y2="827.3" stroke="#1e5e28" stroke-width="1.5"/>
<text x="371.0" y="831.0" font-size="10" text-anchor="start" fill="#404040">G'</text>
<line x1="391.0" y1="827.3" x2="411.6" y2="827.3" stroke="#d9161c" stroke-width="1.5"/>
<text x="413.5" y="831.0" font-size="10" text-anchor="start" fill="#404040">G''</text>
<text x="379.7" y="710.0" font-size="10.5" text-anchor="start" fill="#262626">A15 (1.5)</text>
<line x1="414.0" y1="718.5" x2="515.0" y2="718.5" stroke="#d9d9d9" stroke-width="1"/>
<line x1="414.0" y1="754.5" x2="515.0" y2="754.5" stroke="#d9d9d9" stroke-width="1"/>
<text x="407.8" y="721.0" font-size="7" text-anchor="end" fill="#404040">1000</text>
<text x="407.8" y="757.0" font-size="7" text-anchor="end" fill="#404040">100</text>
<text x="407.8" y="793.5" font-size="7" text-anchor="end" fill="#404040">10</text>
<text transform="translate(386.8,755.0) rotate(-90)" font-size="9.5" font-weight="bold" text-anchor="middle" fill="#262626">G'  [Pa] G'' [Pa]</text>
<line x1="415.9" y1="733.5" x2="415.9" y2="791.0" stroke="#7a7a7a" stroke-width="1.3"/>
<line x1="419.0" y1="734.1" x2="419.0" y2="791.0" stroke="#7a7a7a" stroke-width="1.3"/>
<line x1="422.0" y1="734.7" x2="422.0" y2="791.0" stroke="#7a7a7a" stroke-width="1.3"/>
<line x1="425.1" y1="735.4" x2="425.1" y2="791.0" stroke="#7a7a7a" stroke-width="1.3"/>
<line x1="428.2" y1="736.1" x2="428.2" y2="791.0" stroke="#7a7a7a" stroke-width="1.3"/>
<line x1="431.2" y1="737.0" x2="431.2" y2="791.0" stroke="#7a7a7a" stroke-width="1.3"/>
<line x1="434.3" y1="738.0" x2="434.3" y2="791.0" stroke="#7a7a7a" stroke-width="1.3"/>
<line x1="437.4" y1="738.9" x2="437.4" y2="791.0" stroke="#7a7a7a" stroke-width="1.3"/>
<line x1="440.4" y1="739.7" x2="440.4" y2="791.0" stroke="#7a7a7a" stroke-width="1.3"/>
<line x1="443.5" y1="740.4" x2="443.5" y2="791.0" stroke="#7a7a7a" stroke-width="1.3"/>
<line x1="446.6" y1="741.1" x2="446.6" y2="791.0" stroke="#7a7a7a" stroke-width="1.3"/>
<line x1="449.7" y1="742.0" x2="449.7" y2="791.0" stroke="#7a7a7a" stroke-width="1.3"/>
<line x1="452.7" y1="743.1" x2="452.7" y2="791.0" stroke="#7a7a7a" stroke-width="1.3"/>
<line x1="455.8" y1="744.2" x2="455.8" y2="791.0" stroke="#7a7a7a" stroke-width="1.3"/>
<line x1="458.9" y1="745.3" x2="458.9" y2="791.0" stroke="#7a7a7a" stroke-width="1.3"/>
<line x1="461.9" y1="746.5" x2="461.9" y2="791.0" stroke="#7a7a7a" stroke-width="1.3"/>
<line x1="465.0" y1="747.7" x2="465.0" y2="791.0" stroke="#7a7a7a" stroke-width="1.3"/>
<line x1="468.1" y1="748.9" x2="468.1" y2="791.0" stroke="#7a7a7a" stroke-width="1.3"/>
<line x1="471.1" y1="750.2" x2="471.1" y2="791.0" stroke="#7a7a7a" stroke-width="1.3"/>
<line x1="474.2" y1="751.6" x2="474.2" y2="791.0" stroke="#7a7a7a" stroke-width="1.3"/>
<line x1="477.3" y1="752.9" x2="477.3" y2="791.0" stroke="#7a7a7a" stroke-width="1.3"/>
<line x1="480.3" y1="754.6" x2="480.3" y2="791.0" stroke="#7a7a7a" stroke-width="1.3"/>
<line x1="483.4" y1="756.7" x2="483.4" y2="791.0" stroke="#7a7a7a" stroke-width="1.3"/>
<line x1="486.5" y1="758.8" x2="486.5" y2="791.0" stroke="#7a7a7a" stroke-width="1.3"/>
<line x1="489.6" y1="761.2" x2="489.6" y2="791.0" stroke="#7a7a7a" stroke-width="1.3"/>
<line x1="492.6" y1="763.7" x2="492.6" y2="791.0" stroke="#7a7a7a" stroke-width="1.3"/>
<line x1="495.7" y1="766.2" x2="495.7" y2="791.0" stroke="#7a7a7a" stroke-width="1.3"/>
<line x1="498.8" y1="767.3" x2="498.8" y2="791.0" stroke="#7a7a7a" stroke-width="1.3"/>
<line x1="501.8" y1="765.8" x2="501.8" y2="791.0" stroke="#7a7a7a" stroke-width="1.3"/>
<line x1="504.9" y1="758.3" x2="504.9" y2="791.0" stroke="#7a7a7a" stroke-width="1.3"/>
<line x1="508.0" y1="751.2" x2="508.0" y2="791.0" stroke="#7a7a7a" stroke-width="1.3"/>
<line x1="511.0" y1="743.4" x2="511.0" y2="791.0" stroke="#7a7a7a" stroke-width="1.3"/>
<line x1="514.1" y1="728.1" x2="514.1" y2="791.0" stroke="#7a7a7a" stroke-width="1.3"/>
<line x1="414.0" y1="717.5" x2="414.0" y2="791.3" stroke="#505050" stroke-width="1.5"/>
<text x="521.8" y="720.9" font-size="7.5" text-anchor="start" fill="#595959">1</text>
<text x="521.8" y="735.5" font-size="7.5" text-anchor="start" fill="#595959">0.8</text>
<text x="521.8" y="750.0" font-size="7.5" text-anchor="start" fill="#595959">0.6</text>
<text x="521.8" y="764.6" font-size="7.5" text-anchor="start" fill="#595959">0.4</text>
<text x="521.8" y="779.1" font-size="7.5" text-anchor="start" fill="#595959">0.2</text>
<text x="521.8" y="793.7" font-size="7.5" text-anchor="start" fill="#595959">0</text>
<text transform="translate(546.1,756.0) rotate(-90)" font-size="9.5" font-weight="bold" text-anchor="middle" fill="#262626">tanδ [-]</text>
<text transform="translate(417.5,796.0) rotate(-90)" font-size="7.5" font-weight="bold" text-anchor="end" fill="#262626">18</text>
<text transform="translate(430.2,796.0) rotate(-90)" font-size="7.5" font-weight="bold" text-anchor="end" fill="#262626">20</text>
<text transform="translate(442.9,796.0) rotate(-90)" font-size="7.5" font-weight="bold" text-anchor="end" fill="#262626">23</text>
<text transform="translate(455.6,796.0) rotate(-90)" font-size="7.5" font-weight="bold" text-anchor="end" fill="#262626">28</text>
<text transform="translate(468.3,796.0) rotate(-90)" font-size="7.5" font-weight="bold" text-anchor="end" fill="#262626">40</text>
<text transform="translate(481.0,796.0) rotate(-90)" font-size="7.5" font-weight="bold" text-anchor="end" fill="#262626">69</text>
<text transform="translate(493.7,796.0) rotate(-90)" font-size="7.5" font-weight="bold" text-anchor="end" fill="#262626">143</text>
<text transform="translate(506.4,796.0) rotate(-90)" font-size="7.5" font-weight="bold" text-anchor="end" fill="#262626">293</text>
<text x="465.5" y="817.0" font-size="9.5" font-weight="bold" text-anchor="middle" fill="#262626">Shear stress [Pa]</text>
<polyline points="414.2,728.1 426.8,728.5 437.7,729.2 446.5,730.7 453.0,733.5 463.9,736.2 481.4,736.2 492.3,732.9 501.0,729.8 507.6,735.1 514.1,740.7" fill="none" stroke="#1e5e28" stroke-width="1.8" stroke-linejoin="round" stroke-linecap="round"/>
<polyline points="414.2,731.4 426.8,734.2 437.7,735.1 446.5,736.8 453.0,739.4 461.7,742.9 470.5,746.2 483.6,747.7 492.3,748.8 498.8,748.8 503.2,745.5 509.7,742.3 515.2,741.6" fill="none" stroke="#d9161c" stroke-width="1.8" stroke-linejoin="round" stroke-linecap="round"/>
</svg></body></html>
